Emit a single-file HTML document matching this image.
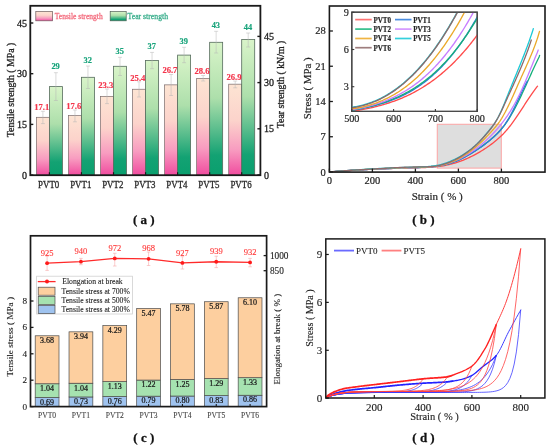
<!DOCTYPE html>
<html><head><meta charset="utf-8"><style>
html,body{margin:0;padding:0;background:#fff;width:550px;height:448px;overflow:hidden}
svg{display:block;font-family:"Liberation Serif", serif;will-change:transform}
</style></head><body>
<svg width="550" height="448" viewBox="0 0 550 448">
<rect width="550" height="448" fill="#fff"/>
<defs>
<linearGradient id="gp" x1="0" y1="0" x2="0" y2="1"><stop offset="0" stop-color="#fde4d3"/><stop offset="0.4" stop-color="#fcd3cb"/><stop offset="0.72" stop-color="#f89cc0"/><stop offset="1" stop-color="#f04c9f"/></linearGradient>
<linearGradient id="gg" x1="0" y1="0" x2="0" y2="1"><stop offset="0" stop-color="#d9f4c9"/><stop offset="0.42" stop-color="#addfab"/><stop offset="0.68" stop-color="#52ba8a"/><stop offset="0.85" stop-color="#13a273"/><stop offset="1" stop-color="#0a9f6e"/></linearGradient>
<clipPath id="cb"><rect x="330" y="6" width="215" height="166"/></clipPath>
<clipPath id="ci"><rect x="352" y="12.5" width="125" height="99"/></clipPath>
<clipPath id="cd"><rect x="326" y="239" width="219" height="159"/></clipPath>
</defs>
<rect x="36.4" y="117.302" width="13" height="57.898" fill="url(#gp)" stroke="#7a6a6a" stroke-width="0.7"/>
<rect x="49.4" y="86.6" width="13" height="88.6" fill="url(#gg)" stroke="#556b5c" stroke-width="0.8"/>
<line x1="42.9" y1="111.3" x2="42.9" y2="123.6" stroke="#b4b4b4" stroke-width="0.5"/>
<line x1="40.9" y1="111.3" x2="44.9" y2="111.3" stroke="#b4b4b4" stroke-width="0.5"/>
<line x1="40.9" y1="123.6" x2="44.9" y2="123.6" stroke="#b4b4b4" stroke-width="0.5"/>
<line x1="55.9" y1="72.7" x2="55.9" y2="100.5" stroke="#b4b4b4" stroke-width="0.5"/>
<line x1="53.9" y1="72.7" x2="57.9" y2="72.7" stroke="#b4b4b4" stroke-width="0.5"/>
<line x1="53.9" y1="100.5" x2="57.9" y2="100.5" stroke="#b4b4b4" stroke-width="0.5"/>
<text x="41.7" y="107.1" font-size="8.6" text-anchor="middle" font-weight="bold" fill="#f4364c" dominant-baseline="central" stroke="#f4364c" stroke-width="0.172">17.1</text>
<text x="55.6" y="66.9" font-size="8.4" text-anchor="middle" font-weight="bold" fill="#16a37a" dominant-baseline="central" stroke="#16a37a" stroke-width="0.168">29</text>
<text x="48.7" y="185" font-size="9.3" text-anchor="middle" font-weight="normal" fill="#2a2a2a" dominant-baseline="central" stroke="#2a2a2a" stroke-width="0.279" textLength="21.2" lengthAdjust="spacingAndGlyphs">PVT0</text>
<line x1="49.4" y1="175.2" x2="49.4" y2="172.2" stroke="#1a1a1a" stroke-width="1.2"/>
<rect x="68.45" y="115.612" width="13" height="59.588" fill="url(#gp)" stroke="#7a6a6a" stroke-width="0.7"/>
<rect x="81.45" y="77.3" width="13" height="97.9" fill="url(#gg)" stroke="#556b5c" stroke-width="0.8"/>
<line x1="74.95" y1="110" x2="74.95" y2="121.8" stroke="#b4b4b4" stroke-width="0.5"/>
<line x1="72.95" y1="110" x2="76.95" y2="110" stroke="#b4b4b4" stroke-width="0.5"/>
<line x1="72.95" y1="121.8" x2="76.95" y2="121.8" stroke="#b4b4b4" stroke-width="0.5"/>
<line x1="87.95" y1="66" x2="87.95" y2="88.5" stroke="#b4b4b4" stroke-width="0.5"/>
<line x1="85.95" y1="66" x2="89.95" y2="66" stroke="#b4b4b4" stroke-width="0.5"/>
<line x1="85.95" y1="88.5" x2="89.95" y2="88.5" stroke="#b4b4b4" stroke-width="0.5"/>
<text x="73.75" y="105.8" font-size="8.6" text-anchor="middle" font-weight="bold" fill="#f4364c" dominant-baseline="central" stroke="#f4364c" stroke-width="0.172">17.6</text>
<text x="87.65" y="60.2" font-size="8.4" text-anchor="middle" font-weight="bold" fill="#16a37a" dominant-baseline="central" stroke="#16a37a" stroke-width="0.168">32</text>
<text x="80.75" y="185" font-size="9.3" text-anchor="middle" font-weight="normal" fill="#2a2a2a" dominant-baseline="central" stroke="#2a2a2a" stroke-width="0.279" textLength="21.2" lengthAdjust="spacingAndGlyphs">PVT1</text>
<line x1="81.45" y1="175.2" x2="81.45" y2="172.2" stroke="#1a1a1a" stroke-width="1.2"/>
<rect x="100.5" y="96.346" width="13" height="78.854" fill="url(#gp)" stroke="#7a6a6a" stroke-width="0.7"/>
<rect x="113.5" y="66.3" width="13" height="108.9" fill="url(#gg)" stroke="#556b5c" stroke-width="0.8"/>
<line x1="107" y1="89" x2="107" y2="103.6" stroke="#b4b4b4" stroke-width="0.5"/>
<line x1="105" y1="89" x2="109" y2="89" stroke="#b4b4b4" stroke-width="0.5"/>
<line x1="105" y1="103.6" x2="109" y2="103.6" stroke="#b4b4b4" stroke-width="0.5"/>
<line x1="120" y1="57.3" x2="120" y2="75.5" stroke="#b4b4b4" stroke-width="0.5"/>
<line x1="118" y1="57.3" x2="122" y2="57.3" stroke="#b4b4b4" stroke-width="0.5"/>
<line x1="118" y1="75.5" x2="122" y2="75.5" stroke="#b4b4b4" stroke-width="0.5"/>
<text x="105.8" y="84.8" font-size="8.6" text-anchor="middle" font-weight="bold" fill="#f4364c" dominant-baseline="central" stroke="#f4364c" stroke-width="0.172">23.3</text>
<text x="119.7" y="51.5" font-size="8.4" text-anchor="middle" font-weight="bold" fill="#16a37a" dominant-baseline="central" stroke="#16a37a" stroke-width="0.168">35</text>
<text x="112.8" y="185" font-size="9.3" text-anchor="middle" font-weight="normal" fill="#2a2a2a" dominant-baseline="central" stroke="#2a2a2a" stroke-width="0.279" textLength="21.2" lengthAdjust="spacingAndGlyphs">PVT2</text>
<line x1="113.5" y1="175.2" x2="113.5" y2="172.2" stroke="#1a1a1a" stroke-width="1.2"/>
<rect x="132.55" y="89.248" width="13" height="85.952" fill="url(#gp)" stroke="#7a6a6a" stroke-width="0.7"/>
<rect x="145.55" y="60.5" width="13" height="114.7" fill="url(#gg)" stroke="#556b5c" stroke-width="0.8"/>
<line x1="139.05" y1="81.8" x2="139.05" y2="97" stroke="#b4b4b4" stroke-width="0.5"/>
<line x1="137.05" y1="81.8" x2="141.05" y2="81.8" stroke="#b4b4b4" stroke-width="0.5"/>
<line x1="137.05" y1="97" x2="141.05" y2="97" stroke="#b4b4b4" stroke-width="0.5"/>
<line x1="152.05" y1="52.4" x2="152.05" y2="68.7" stroke="#b4b4b4" stroke-width="0.5"/>
<line x1="150.05" y1="52.4" x2="154.05" y2="52.4" stroke="#b4b4b4" stroke-width="0.5"/>
<line x1="150.05" y1="68.7" x2="154.05" y2="68.7" stroke="#b4b4b4" stroke-width="0.5"/>
<text x="137.85" y="77.6" font-size="8.6" text-anchor="middle" font-weight="bold" fill="#f4364c" dominant-baseline="central" stroke="#f4364c" stroke-width="0.172">25.4</text>
<text x="151.75" y="46.6" font-size="8.4" text-anchor="middle" font-weight="bold" fill="#16a37a" dominant-baseline="central" stroke="#16a37a" stroke-width="0.168">37</text>
<text x="144.85" y="185" font-size="9.3" text-anchor="middle" font-weight="normal" fill="#2a2a2a" dominant-baseline="central" stroke="#2a2a2a" stroke-width="0.279" textLength="21.2" lengthAdjust="spacingAndGlyphs">PVT3</text>
<line x1="145.55" y1="175.2" x2="145.55" y2="172.2" stroke="#1a1a1a" stroke-width="1.2"/>
<rect x="164.6" y="84.854" width="13" height="90.346" fill="url(#gp)" stroke="#7a6a6a" stroke-width="0.7"/>
<rect x="177.6" y="55.1" width="13" height="120.1" fill="url(#gg)" stroke="#556b5c" stroke-width="0.8"/>
<line x1="171.1" y1="74.5" x2="171.1" y2="95.5" stroke="#b4b4b4" stroke-width="0.5"/>
<line x1="169.1" y1="74.5" x2="173.1" y2="74.5" stroke="#b4b4b4" stroke-width="0.5"/>
<line x1="169.1" y1="95.5" x2="173.1" y2="95.5" stroke="#b4b4b4" stroke-width="0.5"/>
<line x1="184.1" y1="47.3" x2="184.1" y2="62.7" stroke="#b4b4b4" stroke-width="0.5"/>
<line x1="182.1" y1="47.3" x2="186.1" y2="47.3" stroke="#b4b4b4" stroke-width="0.5"/>
<line x1="182.1" y1="62.7" x2="186.1" y2="62.7" stroke="#b4b4b4" stroke-width="0.5"/>
<text x="169.9" y="70.3" font-size="8.6" text-anchor="middle" font-weight="bold" fill="#f4364c" dominant-baseline="central" stroke="#f4364c" stroke-width="0.172">26.7</text>
<text x="183.8" y="41.5" font-size="8.4" text-anchor="middle" font-weight="bold" fill="#16a37a" dominant-baseline="central" stroke="#16a37a" stroke-width="0.168">39</text>
<text x="176.9" y="185" font-size="9.3" text-anchor="middle" font-weight="normal" fill="#2a2a2a" dominant-baseline="central" stroke="#2a2a2a" stroke-width="0.279" textLength="21.2" lengthAdjust="spacingAndGlyphs">PVT4</text>
<line x1="177.6" y1="175.2" x2="177.6" y2="172.2" stroke="#1a1a1a" stroke-width="1.2"/>
<rect x="196.65" y="78.432" width="13" height="96.768" fill="url(#gp)" stroke="#7a6a6a" stroke-width="0.7"/>
<rect x="209.65" y="42.3" width="13" height="132.9" fill="url(#gg)" stroke="#556b5c" stroke-width="0.8"/>
<line x1="203.15" y1="75.5" x2="203.15" y2="81" stroke="#b4b4b4" stroke-width="0.5"/>
<line x1="201.15" y1="75.5" x2="205.15" y2="75.5" stroke="#b4b4b4" stroke-width="0.5"/>
<line x1="201.15" y1="81" x2="205.15" y2="81" stroke="#b4b4b4" stroke-width="0.5"/>
<line x1="216.15" y1="31.3" x2="216.15" y2="53" stroke="#b4b4b4" stroke-width="0.5"/>
<line x1="214.15" y1="31.3" x2="218.15" y2="31.3" stroke="#b4b4b4" stroke-width="0.5"/>
<line x1="214.15" y1="53" x2="218.15" y2="53" stroke="#b4b4b4" stroke-width="0.5"/>
<text x="201.95" y="71.3" font-size="8.6" text-anchor="middle" font-weight="bold" fill="#f4364c" dominant-baseline="central" stroke="#f4364c" stroke-width="0.172">28.6</text>
<text x="215.85" y="25.5" font-size="8.4" text-anchor="middle" font-weight="bold" fill="#16a37a" dominant-baseline="central" stroke="#16a37a" stroke-width="0.168">43</text>
<text x="208.95" y="185" font-size="9.3" text-anchor="middle" font-weight="normal" fill="#2a2a2a" dominant-baseline="central" stroke="#2a2a2a" stroke-width="0.279" textLength="21.2" lengthAdjust="spacingAndGlyphs">PVT5</text>
<line x1="209.65" y1="175.2" x2="209.65" y2="172.2" stroke="#1a1a1a" stroke-width="1.2"/>
<rect x="228.7" y="84.178" width="13" height="91.022" fill="url(#gp)" stroke="#7a6a6a" stroke-width="0.7"/>
<rect x="241.7" y="39.4" width="13" height="135.8" fill="url(#gg)" stroke="#556b5c" stroke-width="0.8"/>
<line x1="235.2" y1="81" x2="235.2" y2="87.8" stroke="#b4b4b4" stroke-width="0.5"/>
<line x1="233.2" y1="81" x2="237.2" y2="81" stroke="#b4b4b4" stroke-width="0.5"/>
<line x1="233.2" y1="87.8" x2="237.2" y2="87.8" stroke="#b4b4b4" stroke-width="0.5"/>
<line x1="248.2" y1="33" x2="248.2" y2="47" stroke="#b4b4b4" stroke-width="0.5"/>
<line x1="246.2" y1="33" x2="250.2" y2="33" stroke="#b4b4b4" stroke-width="0.5"/>
<line x1="246.2" y1="47" x2="250.2" y2="47" stroke="#b4b4b4" stroke-width="0.5"/>
<text x="234" y="76.8" font-size="8.6" text-anchor="middle" font-weight="bold" fill="#f4364c" dominant-baseline="central" stroke="#f4364c" stroke-width="0.172">26.9</text>
<text x="247.9" y="27.2" font-size="8.4" text-anchor="middle" font-weight="bold" fill="#16a37a" dominant-baseline="central" stroke="#16a37a" stroke-width="0.168">44</text>
<text x="241" y="185" font-size="9.3" text-anchor="middle" font-weight="normal" fill="#2a2a2a" dominant-baseline="central" stroke="#2a2a2a" stroke-width="0.279" textLength="21.2" lengthAdjust="spacingAndGlyphs">PVT6</text>
<line x1="241.7" y1="175.2" x2="241.7" y2="172.2" stroke="#1a1a1a" stroke-width="1.2"/>
<rect x="30.3" y="5.8" width="230.1" height="169.4" fill="none" stroke="#1a1a1a" stroke-width="1.8"/>
<line x1="30.3" y1="175.1" x2="33.3" y2="175.1" stroke="#1a1a1a" stroke-width="1.4"/>
<text x="27" y="175.1" font-size="10" text-anchor="end" font-weight="normal" fill="#222" dominant-baseline="central" stroke="#222" stroke-width="0.300">0</text>
<line x1="260.4" y1="175" x2="257.4" y2="175" stroke="#1a1a1a" stroke-width="1.4"/>
<text x="264" y="175" font-size="10" text-anchor="start" font-weight="normal" fill="#222" dominant-baseline="central" stroke="#222" stroke-width="0.300">0</text>
<line x1="30.3" y1="124.4" x2="33.3" y2="124.4" stroke="#1a1a1a" stroke-width="1.4"/>
<text x="27" y="124.4" font-size="10" text-anchor="end" font-weight="normal" fill="#222" dominant-baseline="central" stroke="#222" stroke-width="0.300">15</text>
<line x1="260.4" y1="128.8" x2="257.4" y2="128.8" stroke="#1a1a1a" stroke-width="1.4"/>
<text x="264" y="128.8" font-size="10" text-anchor="start" font-weight="normal" fill="#222" dominant-baseline="central" stroke="#222" stroke-width="0.300">15</text>
<line x1="30.3" y1="73.7" x2="33.3" y2="73.7" stroke="#1a1a1a" stroke-width="1.4"/>
<text x="27" y="73.7" font-size="10" text-anchor="end" font-weight="normal" fill="#222" dominant-baseline="central" stroke="#222" stroke-width="0.300">30</text>
<line x1="260.4" y1="82.6" x2="257.4" y2="82.6" stroke="#1a1a1a" stroke-width="1.4"/>
<text x="264" y="82.6" font-size="10" text-anchor="start" font-weight="normal" fill="#222" dominant-baseline="central" stroke="#222" stroke-width="0.300">30</text>
<line x1="30.3" y1="23" x2="33.3" y2="23" stroke="#1a1a1a" stroke-width="1.4"/>
<text x="27" y="23" font-size="10" text-anchor="end" font-weight="normal" fill="#222" dominant-baseline="central" stroke="#222" stroke-width="0.300">45</text>
<line x1="260.4" y1="36.4" x2="257.4" y2="36.4" stroke="#1a1a1a" stroke-width="1.4"/>
<text x="264" y="36.4" font-size="10" text-anchor="start" font-weight="normal" fill="#222" dominant-baseline="central" stroke="#222" stroke-width="0.300">45</text>
<rect x="35.8" y="11.6" width="16.8" height="9.2" fill="url(#gp)" stroke="#6d5a5a" stroke-width="0.7"/>
<text x="54.7" y="16" font-size="9" text-anchor="start" font-weight="normal" fill="#f36679" dominant-baseline="central" stroke="#f36679" stroke-width="0.270" textLength="48" lengthAdjust="spacingAndGlyphs">Tensile strength</text>
<rect x="110.2" y="11.6" width="16" height="9.2" fill="url(#gg)" stroke="#4f5f55" stroke-width="0.7"/>
<text x="127.5" y="16" font-size="9" text-anchor="start" font-weight="normal" fill="#33ab88" dominant-baseline="central" stroke="#33ab88" stroke-width="0.270" textLength="40.6" lengthAdjust="spacingAndGlyphs">Tear strength</text>
<text x="10" y="90" font-size="9.8" text-anchor="middle" font-weight="normal" fill="#222" dominant-baseline="central" stroke="#222" stroke-width="0.294" transform="rotate(-90 10 90)">Tensile strength ( MPa )</text>
<text x="280" y="84.5" font-size="9.8" text-anchor="middle" font-weight="normal" fill="#222" dominant-baseline="central" stroke="#222" stroke-width="0.294" transform="rotate(-90 280 84.5)">Tear strength ( kN/m )</text>
<text x="143.8" y="219.6" font-size="13" text-anchor="middle" font-weight="bold" fill="#111" dominant-baseline="central" stroke="#111" stroke-width="0.260">( a )</text>
<rect x="437.3" y="124.3" width="64" height="43.8" fill="#dedede" stroke="#fbaaaa" stroke-width="1.1"/>
<g clip-path="url(#cb)" fill="none" stroke-linecap="round" stroke-linejoin="round">
<path d="M329.40,172.00 L331.00,171.88 L332.48,171.77 L333.96,171.65 L335.44,171.54 L336.93,171.43 L338.42,171.32 L339.92,171.22 L341.41,171.11 L342.91,171.01 L344.42,170.90 L345.92,170.80 L347.43,170.70 L348.94,170.60 L350.45,170.51 L351.97,170.41 L353.48,170.32 L355.00,170.22 L356.52,170.13 L358.04,170.04 L359.57,169.96 L361.09,169.87 L362.62,169.79 L364.15,169.70 L365.68,169.62 L367.21,169.54 L368.74,169.47 L370.27,169.39 L371.81,169.32 L373.34,169.25 L374.88,169.18 L376.42,169.11 L377.95,169.04 L379.49,168.98 L381.03,168.91 L382.57,168.85 L384.11,168.79 L385.64,168.73 L387.18,168.68 L388.72,168.62 L390.26,168.57 L391.80,168.51 L393.34,168.46 L394.87,168.41 L396.41,168.36 L397.95,168.31 L399.48,168.26 L401.02,168.22 L402.55,168.17 L404.08,168.13 L405.61,168.08 L407.14,168.04 L408.67,168.00 L410.20,167.96 L411.72,167.91 L413.25,167.87 L414.77,167.83 L416.29,167.79 L417.81,167.75 L419.33,167.71 L420.84,167.67 L422.36,167.62 L423.87,167.57 L425.38,167.51 L426.88,167.44 L428.38,167.36 L429.88,167.27 L431.38,167.17 L432.88,167.06 L434.37,166.93 L435.86,166.78 L437.34,166.62 L438.83,166.44 L440.31,166.23 L441.78,166.01 L443.25,165.77 L444.72,165.51 L446.19,165.22 L447.65,164.92 L449.11,164.59 L450.56,164.24 L452.01,163.87 L453.46,163.47 L454.90,163.05 L456.33,162.61 L457.77,162.14 L459.19,161.65 L460.62,161.13 L462.04,160.59 L463.45,160.03 L464.86,159.45 L466.26,158.85 L467.66,158.23 L469.05,157.59 L470.44,156.93 L471.82,156.26 L473.20,155.56 L474.56,154.85 L475.92,154.12 L477.28,153.37 L478.62,152.61 L479.95,151.83 L481.28,151.03 L482.59,150.22 L483.90,149.39 L485.19,148.55 L486.48,147.70 L487.75,146.83 L489.01,145.94 L490.26,145.04 L491.49,144.13 L492.71,143.21 L493.92,142.27 L495.11,141.31 L496.29,140.35 L497.44,139.36 L498.58,138.36 L499.70,137.34 L500.80,136.30 L501.88,135.25 L502.94,134.18 L503.97,133.09 L504.99,131.98 L505.99,130.86 L506.98,129.73 L507.95,128.58 L508.90,127.41 L509.84,126.24 L510.76,125.05 L511.67,123.85 L512.57,122.64 L513.46,121.42 L514.34,120.19 L515.21,118.96 L516.07,117.71 L516.92,116.46 L517.77,115.20 L518.61,113.94 L519.45,112.67 L520.28,111.40 L521.11,110.12 L521.94,108.84 L522.77,107.56 L523.59,106.28 L524.42,105.00 L525.25,103.71 L526.08,102.43 L526.91,101.15 L527.75,99.87 L528.59,98.60 L529.44,97.33 L530.30,96.06 L531.16,94.80 L532.03,93.54 L532.91,92.29 L533.80,91.05 L534.70,89.82 L535.62,88.59 L536.54,87.37 L537.50,86.20" stroke="#ff4b4b" stroke-width="1.3"/>
<path d="M329.40,172.00 L331.09,171.86 L332.75,171.73 L334.40,171.60 L336.06,171.47 L337.72,171.35 L339.39,171.22 L341.05,171.10 L342.72,170.99 L344.39,170.87 L346.06,170.76 L347.73,170.65 L349.40,170.54 L351.07,170.43 L352.75,170.33 L354.43,170.22 L356.10,170.12 L357.78,170.02 L359.46,169.92 L361.14,169.83 L362.83,169.73 L364.51,169.64 L366.19,169.55 L367.88,169.46 L369.56,169.38 L371.24,169.29 L372.93,169.21 L374.61,169.12 L376.30,169.04 L377.99,168.96 L379.67,168.88 L381.36,168.81 L383.04,168.73 L384.73,168.66 L386.42,168.59 L388.10,168.52 L389.79,168.45 L391.47,168.38 L393.16,168.32 L394.84,168.25 L396.52,168.19 L398.20,168.13 L399.89,168.07 L401.57,168.02 L403.25,167.96 L404.93,167.91 L406.60,167.86 L408.28,167.81 L409.96,167.76 L411.63,167.71 L413.30,167.67 L414.97,167.63 L416.64,167.59 L418.31,167.55 L419.98,167.50 L421.64,167.45 L423.31,167.40 L424.97,167.33 L426.63,167.25 L428.29,167.15 L429.94,167.03 L431.59,166.89 L433.25,166.72 L434.89,166.53 L436.54,166.31 L438.18,166.05 L439.83,165.76 L441.46,165.43 L443.10,165.08 L444.72,164.69 L446.34,164.26 L447.96,163.81 L449.57,163.33 L451.17,162.81 L452.76,162.27 L454.35,161.70 L455.92,161.10 L457.48,160.46 L459.03,159.81 L460.57,159.12 L462.10,158.41 L463.61,157.67 L465.11,156.90 L466.60,156.11 L468.07,155.30 L469.53,154.46 L470.97,153.60 L472.40,152.72 L473.81,151.82 L475.22,150.90 L476.62,149.97 L478.01,149.02 L479.39,148.07 L480.77,147.10 L482.14,146.12 L483.50,145.13 L484.85,144.12 L486.20,143.10 L487.53,142.07 L488.85,141.02 L490.15,139.95 L491.45,138.87 L492.72,137.77 L493.98,136.65 L495.22,135.51 L496.44,134.35 L497.63,133.17 L498.80,131.97 L499.94,130.75 L501.05,129.50 L502.12,128.23 L503.17,126.94 L504.19,125.63 L505.18,124.29 L506.14,122.94 L507.08,121.57 L508.00,120.19 L508.89,118.79 L509.77,117.37 L510.63,115.94 L511.47,114.50 L512.30,113.05 L513.11,111.59 L513.91,110.13 L514.70,108.65 L515.49,107.17 L516.26,105.68 L517.02,104.18 L517.78,102.68 L518.53,101.18 L519.27,99.66 L520.00,98.15 L520.73,96.63 L521.45,95.11 L522.17,93.58 L522.88,92.05 L523.59,90.52 L524.29,88.99 L524.99,87.45 L525.69,85.91 L526.39,84.38 L527.08,82.84 L527.77,81.30 L528.46,79.76 L529.15,78.22 L529.85,76.69 L530.54,75.15 L531.23,73.62 L531.93,72.09 L532.63,70.56 L533.33,69.04 L534.03,67.52 L534.74,66.00 L535.45,64.49 L536.16,62.98 L536.89,61.48 L537.61,59.98 L538.35,58.49 L539.09,57.00 L539.60,55.40" stroke="#17b07b" stroke-width="1.3"/>
<path d="M329.40,172.00 L330.90,171.87 L332.39,171.75 L333.88,171.63 L335.37,171.51 L336.86,171.39 L338.35,171.28 L339.84,171.17 L341.33,171.06 L342.82,170.95 L344.32,170.85 L345.81,170.75 L347.30,170.65 L348.80,170.55 L350.29,170.46 L351.79,170.36 L353.28,170.27 L354.78,170.18 L356.27,170.10 L357.77,170.01 L359.27,169.93 L360.76,169.85 L362.26,169.77 L363.76,169.69 L365.26,169.62 L366.75,169.54 L368.25,169.47 L369.75,169.40 L371.25,169.33 L372.75,169.26 L374.25,169.19 L375.75,169.12 L377.25,169.06 L378.74,168.99 L380.24,168.93 L381.74,168.87 L383.24,168.81 L384.74,168.75 L386.24,168.69 L387.74,168.63 L389.24,168.57 L390.74,168.51 L392.24,168.46 L393.74,168.40 L395.24,168.34 L396.74,168.29 L398.24,168.23 L399.74,168.18 L401.24,168.12 L402.74,168.07 L404.24,168.02 L405.74,167.96 L407.24,167.91 L408.74,167.85 L410.24,167.80 L411.74,167.75 L413.24,167.69 L414.74,167.64 L416.24,167.58 L417.74,167.53 L419.23,167.47 L420.73,167.41 L422.23,167.34 L423.72,167.27 L425.22,167.19 L426.71,167.10 L428.20,167.00 L429.68,166.89 L431.17,166.76 L432.65,166.62 L434.13,166.47 L435.60,166.30 L437.07,166.11 L438.54,165.90 L440.00,165.67 L441.46,165.42 L442.91,165.15 L444.36,164.85 L445.81,164.52 L447.24,164.17 L448.68,163.78 L450.10,163.37 L451.52,162.92 L452.93,162.45 L454.34,161.93 L455.74,161.39 L457.13,160.80 L458.52,160.18 L459.89,159.54 L461.26,158.86 L462.62,158.16 L463.97,157.44 L465.31,156.71 L466.64,155.97 L467.97,155.21 L469.28,154.45 L470.59,153.68 L471.88,152.91 L473.17,152.12 L474.44,151.33 L475.71,150.53 L476.97,149.72 L478.21,148.89 L479.45,148.06 L480.68,147.22 L481.90,146.36 L483.11,145.49 L484.31,144.61 L485.50,143.72 L486.69,142.81 L487.86,141.89 L489.02,140.96 L490.18,140.01 L491.32,139.04 L492.46,138.06 L493.58,137.06 L494.69,136.04 L495.77,135.01 L496.84,133.96 L497.89,132.89 L498.92,131.80 L499.92,130.70 L500.90,129.57 L501.85,128.42 L502.77,127.25 L503.67,126.07 L504.54,124.87 L505.39,123.65 L506.21,122.41 L507.02,121.16 L507.81,119.90 L508.57,118.62 L509.33,117.33 L510.06,116.03 L510.78,114.71 L511.49,113.39 L512.18,112.06 L512.86,110.72 L513.53,109.38 L514.20,108.03 L514.85,106.67 L515.50,105.31 L516.14,103.94 L516.78,102.58 L517.42,101.21 L518.05,99.84 L518.68,98.47 L519.32,97.10 L519.95,95.74 L520.59,94.37 L521.23,93.01 L521.88,91.66 L522.53,90.31 L523.19,88.96 L523.86,87.63 L524.54,86.30 L525.23,84.98 L525.93,83.67 L526.65,82.38 L527.40,81.10" stroke="#2f79d6" stroke-width="1.3"/>
<path d="M329.40,172.00 L331.10,171.86 L332.78,171.74 L334.45,171.61 L336.13,171.49 L337.81,171.36 L339.49,171.24 L341.17,171.12 L342.85,170.99 L344.54,170.87 L346.22,170.76 L347.91,170.64 L349.60,170.52 L351.29,170.41 L352.99,170.30 L354.68,170.18 L356.37,170.08 L358.07,169.97 L359.77,169.86 L361.47,169.76 L363.16,169.66 L364.86,169.56 L366.56,169.46 L368.26,169.37 L369.96,169.28 L371.67,169.19 L373.37,169.10 L375.07,169.02 L376.77,168.94 L378.47,168.86 L380.18,168.78 L381.88,168.71 L383.58,168.64 L385.28,168.57 L386.98,168.50 L388.69,168.43 L390.39,168.37 L392.09,168.31 L393.79,168.25 L395.49,168.19 L397.19,168.14 L398.88,168.08 L400.58,168.03 L402.28,167.98 L403.97,167.93 L405.67,167.88 L407.36,167.83 L409.05,167.78 L410.74,167.74 L412.43,167.70 L414.12,167.65 L415.80,167.61 L417.49,167.57 L419.17,167.52 L420.85,167.47 L422.53,167.42 L424.20,167.35 L425.88,167.26 L427.55,167.16 L429.22,167.04 L430.89,166.89 L432.56,166.72 L434.22,166.51 L435.88,166.28 L437.54,166.01 L439.20,165.70 L440.85,165.35 L442.49,164.97 L444.14,164.55 L445.77,164.10 L447.40,163.61 L449.02,163.09 L450.63,162.54 L452.24,161.96 L453.83,161.34 L455.41,160.70 L456.98,160.02 L458.53,159.32 L460.07,158.59 L461.60,157.83 L463.11,157.04 L464.61,156.23 L466.09,155.39 L467.55,154.53 L468.99,153.64 L470.41,152.73 L471.82,151.80 L473.21,150.84 L474.58,149.87 L475.94,148.87 L477.29,147.85 L478.62,146.82 L479.94,145.76 L481.24,144.69 L482.54,143.60 L483.82,142.50 L485.08,141.37 L486.34,140.23 L487.58,139.07 L488.80,137.90 L490.01,136.71 L491.21,135.51 L492.39,134.29 L493.56,133.05 L494.71,131.80 L495.85,130.54 L496.97,129.26 L498.08,127.97 L499.17,126.67 L500.25,125.35 L501.31,124.02 L502.36,122.68 L503.39,121.32 L504.40,119.96 L505.39,118.58 L506.37,117.19 L507.34,115.79 L508.28,114.38 L509.21,112.96 L510.13,111.53 L511.02,110.10 L511.90,108.65 L512.76,107.19 L513.60,105.73 L514.43,104.25 L515.24,102.77 L516.04,101.29 L516.83,99.79 L517.60,98.29 L518.36,96.78 L519.10,95.26 L519.84,93.74 L520.56,92.22 L521.28,90.68 L521.98,89.15 L522.68,87.61 L523.37,86.06 L524.05,84.51 L524.72,82.96 L525.39,81.40 L526.05,79.84 L526.71,78.28 L527.36,76.71 L528.01,75.15 L528.65,73.58 L529.30,72.01 L529.94,70.44 L530.58,68.86 L531.22,67.29 L531.86,65.72 L532.49,64.15 L533.14,62.57 L533.78,61.00 L534.42,59.43 L535.07,57.86 L535.72,56.30 L536.38,54.73 L537.04,53.17 L537.71,51.61 L538.20,50.00" stroke="#c77dff" stroke-width="1.3"/>
<path d="M329.40,172.00 L331.23,171.86 L332.98,171.72 L334.74,171.58 L336.50,171.45 L338.26,171.31 L340.03,171.18 L341.80,171.05 L343.57,170.91 L345.35,170.78 L347.14,170.65 L348.92,170.53 L350.71,170.40 L352.50,170.28 L354.30,170.16 L356.10,170.04 L357.90,169.92 L359.70,169.80 L361.50,169.69 L363.31,169.58 L365.12,169.47 L366.92,169.37 L368.74,169.26 L370.55,169.16 L372.36,169.07 L374.17,168.98 L375.99,168.89 L377.80,168.80 L379.62,168.72 L381.44,168.64 L383.25,168.56 L385.07,168.48 L386.88,168.41 L388.70,168.34 L390.51,168.27 L392.32,168.21 L394.14,168.14 L395.95,168.08 L397.76,168.02 L399.57,167.96 L401.37,167.90 L403.18,167.85 L404.98,167.79 L406.78,167.74 L408.58,167.69 L410.37,167.64 L412.17,167.59 L413.96,167.54 L415.74,167.49 L417.53,167.44 L419.31,167.39 L421.09,167.33 L422.86,167.26 L424.63,167.18 L426.39,167.09 L428.15,166.97 L429.91,166.83 L431.66,166.67 L433.41,166.47 L435.15,166.25 L436.89,165.98 L438.62,165.68 L440.35,165.34 L442.07,164.95 L443.78,164.52 L445.48,164.06 L447.17,163.55 L448.86,162.99 L450.53,162.40 L452.20,161.76 L453.85,161.07 L455.48,160.34 L457.11,159.56 L458.71,158.74 L460.31,157.88 L461.89,156.98 L463.45,156.04 L464.99,155.07 L466.52,154.06 L468.02,153.02 L469.51,151.96 L470.97,150.87 L472.42,149.75 L473.84,148.61 L475.24,147.45 L476.61,146.28 L477.96,145.09 L479.29,143.88 L480.59,142.67 L481.87,141.44 L483.13,140.20 L484.38,138.95 L485.62,137.68 L486.86,136.40 L488.09,135.11 L489.32,133.80 L490.56,132.48 L491.79,131.14 L493.02,129.78 L494.23,128.41 L495.42,127.02 L496.57,125.61 L497.69,124.19 L498.75,122.75 L499.77,121.29 L500.75,119.81 L501.69,118.32 L502.59,116.81 L503.47,115.29 L504.32,113.75 L505.16,112.20 L505.97,110.64 L506.78,109.07 L507.57,107.49 L508.35,105.89 L509.13,104.29 L509.90,102.68 L510.66,101.06 L511.41,99.43 L512.16,97.80 L512.90,96.16 L513.64,94.52 L514.38,92.87 L515.11,91.22 L515.84,89.57 L516.57,87.91 L517.30,86.26 L518.03,84.60 L518.76,82.94 L519.50,81.29 L520.23,79.64 L520.97,77.99 L521.71,76.34 L522.46,74.70 L523.20,73.05 L523.94,71.41 L524.69,69.76 L525.43,68.12 L526.16,66.48 L526.90,64.84 L527.63,63.19 L528.35,61.55 L529.07,59.90 L529.78,58.25 L530.48,56.60 L531.18,54.95 L531.86,53.29 L532.54,51.63 L533.20,49.97 L533.85,48.30 L534.49,46.63 L535.12,44.95 L535.73,43.27 L536.32,41.58 L536.90,39.89 L537.46,38.19 L538.00,36.48 L538.53,34.76 L539.03,33.04 L539.50,31.30" stroke="#eba92a" stroke-width="1.3"/>
<path d="M329.40,172.00 L331.21,171.85 L332.95,171.70 L334.70,171.56 L336.45,171.41 L338.20,171.27 L339.96,171.13 L341.72,170.99 L343.49,170.85 L345.26,170.72 L347.03,170.58 L348.80,170.45 L350.58,170.31 L352.36,170.18 L354.14,170.05 L355.93,169.93 L357.71,169.80 L359.50,169.68 L361.29,169.56 L363.08,169.44 L364.88,169.33 L366.67,169.21 L368.47,169.10 L370.26,168.99 L372.06,168.89 L373.86,168.79 L375.66,168.69 L377.46,168.59 L379.26,168.50 L381.06,168.41 L382.86,168.32 L384.66,168.23 L386.46,168.15 L388.25,168.07 L390.05,167.99 L391.85,167.92 L393.65,167.84 L395.44,167.77 L397.24,167.70 L399.03,167.63 L400.82,167.56 L402.61,167.50 L404.40,167.44 L406.18,167.38 L407.97,167.32 L409.75,167.26 L411.53,167.20 L413.30,167.14 L415.07,167.09 L416.84,167.04 L418.61,166.98 L420.38,166.92 L422.14,166.85 L423.89,166.77 L425.65,166.67 L427.39,166.55 L429.14,166.40 L430.88,166.23 L432.62,166.02 L434.35,165.77 L436.08,165.49 L437.80,165.15 L439.52,164.77 L441.23,164.35 L442.93,163.88 L444.63,163.36 L446.31,162.81 L447.99,162.21 L449.66,161.57 L451.31,160.89 L452.95,160.17 L454.58,159.42 L456.19,158.63 L457.78,157.80 L459.36,156.94 L460.92,156.04 L462.47,155.11 L463.99,154.15 L465.49,153.16 L466.97,152.13 L468.43,151.08 L469.86,150.01 L471.27,148.90 L472.66,147.77 L474.02,146.62 L475.35,145.44 L476.65,144.24 L477.92,143.01 L479.17,141.77 L480.38,140.50 L481.57,139.22 L482.75,137.92 L483.91,136.59 L485.06,135.25 L486.21,133.89 L487.37,132.51 L488.53,131.12 L489.69,129.70 L490.84,128.27 L491.97,126.82 L493.07,125.35 L494.13,123.87 L495.13,122.37 L496.08,120.86 L496.99,119.32 L497.86,117.78 L498.69,116.22 L499.48,114.65 L500.24,113.07 L500.98,111.48 L501.69,109.88 L502.39,108.26 L503.07,106.65 L503.74,105.02 L504.41,103.39 L505.07,101.75 L505.73,100.10 L506.39,98.46 L507.05,96.81 L507.72,95.15 L508.38,93.50 L509.05,91.85 L509.72,90.19 L510.39,88.54 L511.06,86.88 L511.73,85.23 L512.41,83.58 L513.09,81.93 L513.76,80.27 L514.44,78.62 L515.12,76.97 L515.80,75.32 L516.48,73.67 L517.15,72.01 L517.83,70.36 L518.50,68.71 L519.17,67.05 L519.84,65.40 L520.51,63.74 L521.18,62.08 L521.84,60.43 L522.49,58.77 L523.15,57.11 L523.80,55.45 L524.45,53.79 L525.09,52.12 L525.72,50.46 L526.35,48.79 L526.98,47.12 L527.60,45.45 L528.21,43.78 L528.82,42.11 L529.42,40.43 L530.01,38.75 L530.59,37.08 L531.17,35.39 L531.74,33.71 L532.30,32.02 L532.85,30.33 L533.30,28.60" stroke="#19c9d6" stroke-width="1.3"/>
<path d="M329.40,172.00 L331.13,171.83 L332.81,171.66 L334.50,171.51 L336.19,171.36 L337.88,171.22 L339.57,171.08 L341.27,170.95 L342.97,170.82 L344.67,170.70 L346.37,170.58 L348.08,170.47 L349.79,170.36 L351.50,170.26 L353.21,170.15 L354.92,170.05 L356.64,169.95 L358.36,169.85 L360.07,169.76 L361.79,169.66 L363.52,169.57 L365.24,169.47 L366.96,169.37 L368.68,169.28 L370.41,169.18 L372.14,169.08 L373.86,168.98 L375.59,168.87 L377.31,168.77 L379.04,168.66 L380.77,168.56 L382.49,168.45 L384.22,168.34 L385.95,168.24 L387.67,168.14 L389.40,168.03 L391.12,167.93 L392.85,167.84 L394.57,167.74 L396.29,167.65 L398.02,167.56 L399.74,167.48 L401.45,167.40 L403.17,167.33 L404.89,167.26 L406.60,167.20 L408.32,167.14 L410.03,167.10 L411.74,167.06 L413.44,167.02 L415.15,167.00 L416.85,166.98 L418.55,166.97 L420.25,166.96 L421.94,166.95 L423.63,166.93 L425.32,166.89 L427.01,166.83 L428.69,166.75 L430.37,166.65 L432.05,166.50 L433.72,166.32 L435.39,166.10 L437.06,165.83 L438.72,165.50 L440.38,165.13 L442.03,164.71 L443.67,164.24 L445.31,163.72 L446.93,163.16 L448.55,162.55 L450.15,161.91 L451.74,161.22 L453.32,160.50 L454.89,159.74 L456.43,158.95 L457.97,158.12 L459.48,157.26 L460.97,156.37 L462.45,155.46 L463.90,154.51 L465.33,153.55 L466.74,152.56 L468.12,151.54 L469.48,150.51 L470.81,149.45 L472.13,148.38 L473.42,147.28 L474.69,146.17 L475.94,145.03 L477.18,143.88 L478.39,142.70 L479.60,141.50 L480.78,140.29 L481.95,139.06 L483.11,137.80 L484.26,136.53 L485.40,135.24 L486.53,133.93 L487.64,132.60 L488.75,131.26 L489.85,129.89 L490.93,128.52 L491.98,127.12 L493.01,125.71 L494.00,124.28 L494.95,122.85 L495.86,121.39 L496.74,119.93 L497.59,118.46 L498.40,116.97 L499.19,115.48 L499.96,113.98 L500.71,112.46 L501.44,110.95 L502.16,109.42 L502.87,107.89 L503.57,106.36 L504.27,104.82 L504.96,103.28 L505.66,101.73 L506.36,100.19 L507.07,98.64 L507.77,97.09 L508.48,95.53 L509.19,93.98 L509.90,92.42 L510.61,90.86 L511.33,89.30 L512.04,87.74 L512.75,86.17 L513.46,84.61 L514.17,83.04 L514.88,81.47 L515.58,79.90 L516.28,78.32 L516.98,76.75 L517.68,75.17 L518.37,73.59 L519.06,72.01 L519.74,70.42 L520.42,68.84 L521.09,67.25 L521.76,65.66 L522.42,64.07 L523.07,62.48 L523.72,60.88 L524.36,59.29 L524.99,57.69 L525.61,56.09 L526.22,54.49 L526.83,52.89 L527.42,51.28 L528.01,49.68 L528.58,48.07 L529.15,46.46 L529.70,44.85 L530.24,43.24 L530.77,41.63 L531.30,40.00" stroke="#8d6a6a" stroke-width="1.3"/>
</g>
<rect x="329.4" y="6" width="215.6" height="166.1" fill="none" stroke="#1a1a1a" stroke-width="1.6"/>
<line x1="329.4" y1="172" x2="332.9" y2="172" stroke="#1a1a1a" stroke-width="1.3"/>
<text x="325.8" y="172" font-size="10.5" text-anchor="end" font-weight="normal" fill="#222" dominant-baseline="central" stroke="#222" stroke-width="0.189">0</text>
<line x1="329.4" y1="136.748" x2="332.9" y2="136.748" stroke="#1a1a1a" stroke-width="1.3"/>
<text x="325.8" y="136.748" font-size="10.5" text-anchor="end" font-weight="normal" fill="#222" dominant-baseline="central" stroke="#222" stroke-width="0.189">7</text>
<line x1="329.4" y1="101.496" x2="332.9" y2="101.496" stroke="#1a1a1a" stroke-width="1.3"/>
<text x="325.8" y="101.496" font-size="10.5" text-anchor="end" font-weight="normal" fill="#222" dominant-baseline="central" stroke="#222" stroke-width="0.189">14</text>
<line x1="329.4" y1="66.244" x2="332.9" y2="66.244" stroke="#1a1a1a" stroke-width="1.3"/>
<text x="325.8" y="66.244" font-size="10.5" text-anchor="end" font-weight="normal" fill="#222" dominant-baseline="central" stroke="#222" stroke-width="0.189">21</text>
<line x1="329.4" y1="30.992" x2="332.9" y2="30.992" stroke="#1a1a1a" stroke-width="1.3"/>
<text x="325.8" y="30.992" font-size="10.5" text-anchor="end" font-weight="normal" fill="#222" dominant-baseline="central" stroke="#222" stroke-width="0.189">28</text>
<line x1="329.4" y1="172.1" x2="329.4" y2="168.6" stroke="#1a1a1a" stroke-width="1.3"/>
<text x="329.4" y="180.6" font-size="10.5" text-anchor="middle" font-weight="normal" fill="#222" dominant-baseline="central" stroke="#222" stroke-width="0.189">0</text>
<line x1="372.4" y1="172.1" x2="372.4" y2="168.6" stroke="#1a1a1a" stroke-width="1.3"/>
<text x="372.4" y="180.6" font-size="10.5" text-anchor="middle" font-weight="normal" fill="#222" dominant-baseline="central" stroke="#222" stroke-width="0.189">200</text>
<line x1="415.4" y1="172.1" x2="415.4" y2="168.6" stroke="#1a1a1a" stroke-width="1.3"/>
<text x="415.4" y="180.6" font-size="10.5" text-anchor="middle" font-weight="normal" fill="#222" dominant-baseline="central" stroke="#222" stroke-width="0.189">400</text>
<line x1="458.4" y1="172.1" x2="458.4" y2="168.6" stroke="#1a1a1a" stroke-width="1.3"/>
<text x="458.4" y="180.6" font-size="10.5" text-anchor="middle" font-weight="normal" fill="#222" dominant-baseline="central" stroke="#222" stroke-width="0.189">600</text>
<line x1="501.4" y1="172.1" x2="501.4" y2="168.6" stroke="#1a1a1a" stroke-width="1.3"/>
<text x="501.4" y="180.6" font-size="10.5" text-anchor="middle" font-weight="normal" fill="#222" dominant-baseline="central" stroke="#222" stroke-width="0.189">800</text>
<text x="437.2" y="196.3" font-size="11" text-anchor="middle" font-weight="normal" fill="#222" dominant-baseline="central" stroke="#222" stroke-width="0.198">Strain ( % )</text>
<text x="307.2" y="88.3" font-size="10.9" text-anchor="middle" font-weight="normal" fill="#222" dominant-baseline="central" stroke="#222" stroke-width="0.196" transform="rotate(-90 307.2 88.3)">Stress ( MPa )</text>
<text x="423.4" y="219.6" font-size="13" text-anchor="middle" font-weight="bold" fill="#111" dominant-baseline="central" stroke="#111" stroke-width="0.260">( b )</text>
<rect x="351.8" y="12.2" width="125.4" height="99.2" fill="#ffffff" stroke="#3a3a3a" stroke-width="1.2"/>
<g clip-path="url(#ci)" fill="none" stroke-linecap="round">
<path d="M351.80,111.29 L353.07,111.10 L354.34,110.90 L355.61,110.69 L356.88,110.49 L358.15,110.27 L359.42,110.05 L360.69,109.83 L361.96,109.60 L363.23,109.36 L364.50,109.12 L365.77,108.87 L367.04,108.61 L368.31,108.35 L369.58,108.08 L370.85,107.80 L372.12,107.52 L373.38,107.22 L374.65,106.92 L375.92,106.61 L377.19,106.29 L378.46,105.97 L379.73,105.63 L381.00,105.28 L382.27,104.93 L383.54,104.56 L384.81,104.19 L386.08,103.81 L387.35,103.41 L388.62,103.00 L389.89,102.59 L391.16,102.16 L392.43,101.72 L393.70,101.27 L394.97,100.81 L396.24,100.34 L397.51,99.85 L398.78,99.35 L400.05,98.84 L401.32,98.32 L402.59,97.78 L403.86,97.23 L405.13,96.66 L406.40,96.09 L407.67,95.49 L408.94,94.89 L410.21,94.27 L411.48,93.63 L412.75,92.98 L414.02,92.32 L415.28,91.64 L416.55,90.94 L417.82,90.23 L419.09,89.50 L420.36,88.76 L421.63,87.99 L422.90,87.22 L424.17,86.42 L425.44,85.61 L426.71,84.78 L427.98,83.93 L429.25,83.07 L430.52,82.19 L431.79,81.28 L433.06,80.37 L434.33,79.43 L435.60,78.47 L436.87,77.49 L438.14,76.50 L439.41,75.48 L440.68,74.44 L441.95,73.39 L443.22,72.31 L444.49,71.21 L445.76,70.10 L447.03,68.96 L448.30,67.80 L449.57,66.62 L450.84,65.41 L452.11,64.19 L453.38,62.94 L454.65,61.67 L455.92,60.38 L457.18,59.06 L458.45,57.72 L459.72,56.36 L460.99,54.98 L462.26,53.57 L463.53,52.13 L464.80,50.68 L466.07,49.19 L467.34,47.69 L468.61,46.16 L469.88,44.60 L471.15,43.02 L472.42,41.41 L473.69,39.78 L474.96,38.12 L476.23,36.43 L477.50,34.72" stroke="#ff4b4b" stroke-width="1.35"/>
<path d="M351.80,110.38 L353.07,110.16 L354.34,109.93 L355.61,109.69 L356.88,109.46 L358.15,109.22 L359.42,108.97 L360.69,108.73 L361.96,108.47 L363.23,108.22 L364.50,107.95 L365.77,107.68 L367.04,107.41 L368.31,107.12 L369.58,106.83 L370.85,106.54 L372.12,106.23 L373.38,105.92 L374.65,105.60 L375.92,105.27 L377.19,104.93 L378.46,104.58 L379.73,104.22 L381.00,103.85 L382.27,103.47 L383.54,103.07 L384.81,102.67 L386.08,102.25 L387.35,101.83 L388.62,101.38 L389.89,100.93 L391.16,100.46 L392.43,99.98 L393.70,99.49 L394.97,98.98 L396.24,98.45 L397.51,97.91 L398.78,97.36 L400.05,96.78 L401.32,96.19 L402.59,95.59 L403.86,94.97 L405.13,94.33 L406.40,93.67 L407.67,92.99 L408.94,92.30 L410.21,91.58 L411.48,90.85 L412.75,90.09 L414.02,89.32 L415.28,88.52 L416.55,87.71 L417.82,86.87 L419.09,86.01 L420.36,85.13 L421.63,84.23 L422.90,83.30 L424.17,82.35 L425.44,81.38 L426.71,80.38 L427.98,79.36 L429.25,78.31 L430.52,77.24 L431.79,76.15 L433.06,75.02 L434.33,73.87 L435.60,72.70 L436.87,71.49 L438.14,70.26 L439.41,69.01 L440.68,67.72 L441.95,66.41 L443.22,65.06 L444.49,63.69 L445.76,62.29 L447.03,60.85 L448.30,59.39 L449.57,57.90 L450.84,56.37 L452.11,54.82 L453.38,53.23 L454.65,51.61 L455.92,49.95 L457.18,48.27 L458.45,46.55 L459.72,44.80 L460.99,43.01 L462.26,41.19 L463.53,39.33 L464.80,37.44 L466.07,35.51 L467.34,33.54 L468.61,31.54 L469.88,29.51 L471.15,27.43 L472.42,25.32 L473.69,23.17 L474.96,20.98 L476.23,18.76 L477.50,16.49" stroke="#2f79d6" stroke-width="1.35"/>
<path d="M351.80,110.20 L353.07,109.97 L354.34,109.73 L355.61,109.49 L356.88,109.25 L358.15,109.00 L359.42,108.75 L360.69,108.49 L361.96,108.22 L363.23,107.95 L364.50,107.67 L365.77,107.39 L367.04,107.09 L368.31,106.79 L369.58,106.49 L370.85,106.17 L372.12,105.84 L373.38,105.51 L374.65,105.17 L375.92,104.82 L377.19,104.45 L378.46,104.08 L379.73,103.70 L381.00,103.31 L382.27,102.90 L383.54,102.49 L384.81,102.06 L386.08,101.62 L387.35,101.17 L388.62,100.71 L389.89,100.23 L391.16,99.74 L392.43,99.24 L393.70,98.72 L394.97,98.19 L396.24,97.64 L397.51,97.08 L398.78,96.50 L400.05,95.91 L401.32,95.30 L402.59,94.68 L403.86,94.04 L405.13,93.38 L406.40,92.71 L407.67,92.02 L408.94,91.31 L410.21,90.58 L411.48,89.83 L412.75,89.07 L414.02,88.29 L415.28,87.48 L416.55,86.66 L417.82,85.82 L419.09,84.96 L420.36,84.07 L421.63,83.17 L422.90,82.24 L424.17,81.30 L425.44,80.33 L426.71,79.34 L427.98,78.32 L429.25,77.29 L430.52,76.23 L431.79,75.15 L433.06,74.04 L434.33,72.91 L435.60,71.75 L436.87,70.57 L438.14,69.37 L439.41,68.14 L440.68,66.88 L441.95,65.60 L443.22,64.29 L444.49,62.96 L445.76,61.60 L447.03,60.21 L448.30,58.79 L449.57,57.35 L450.84,55.87 L452.11,54.37 L453.38,52.84 L454.65,51.28 L455.92,49.69 L457.18,48.07 L458.45,46.43 L459.72,44.75 L460.99,43.04 L462.26,41.30 L463.53,39.52 L464.80,37.72 L466.07,35.88 L467.34,34.01 L468.61,32.11 L469.88,30.18 L471.15,28.21 L472.42,26.21 L473.69,24.17 L474.96,22.10 L476.23,20.00 L477.50,17.86" stroke="#17b07b" stroke-width="1.35"/>
<path d="M351.80,109.83 L353.04,109.61 L354.29,109.38 L355.53,109.14 L356.78,108.90 L358.02,108.65 L359.27,108.40 L360.51,108.13 L361.76,107.86 L363.00,107.58 L364.24,107.29 L365.49,107.00 L366.73,106.69 L367.98,106.38 L369.22,106.05 L370.47,105.72 L371.71,105.37 L372.96,105.02 L374.20,104.65 L375.44,104.27 L376.69,103.88 L377.93,103.48 L379.18,103.07 L380.42,102.64 L381.67,102.20 L382.91,101.75 L384.16,101.28 L385.40,100.80 L386.64,100.31 L387.89,99.80 L389.13,99.28 L390.38,98.74 L391.62,98.18 L392.87,97.61 L394.11,97.03 L395.36,96.42 L396.60,95.81 L397.84,95.17 L399.09,94.52 L400.33,93.85 L401.58,93.16 L402.82,92.45 L404.07,91.72 L405.31,90.98 L406.56,90.22 L407.80,89.43 L409.04,88.63 L410.29,87.80 L411.53,86.96 L412.78,86.10 L414.02,85.21 L415.27,84.30 L416.51,83.37 L417.76,82.42 L419.00,81.45 L420.24,80.45 L421.49,79.43 L422.73,78.39 L423.98,77.32 L425.22,76.23 L426.47,75.11 L427.71,73.97 L428.96,72.81 L430.20,71.62 L431.44,70.40 L432.69,69.16 L433.93,67.89 L435.18,66.60 L436.42,65.28 L437.67,63.93 L438.91,62.55 L440.16,61.15 L441.40,59.72 L442.64,58.25 L443.89,56.77 L445.13,55.25 L446.38,53.70 L447.62,52.12 L448.87,50.51 L450.11,48.87 L451.36,47.21 L452.60,45.51 L453.84,43.78 L455.09,42.01 L456.33,40.22 L457.58,38.39 L458.82,36.53 L460.07,34.64 L461.31,32.71 L462.56,30.75 L463.80,28.76 L465.04,26.73 L466.29,24.67 L467.53,22.57 L468.78,20.44 L470.02,18.27 L471.27,16.07 L472.51,13.83 L473.76,11.55 L475.00,9.24" stroke="#c77dff" stroke-width="1.35"/>
<path d="M351.80,108.90 L352.95,108.74 L354.11,108.57 L355.26,108.39 L356.41,108.19 L357.57,107.99 L358.72,107.77 L359.87,107.54 L361.03,107.31 L362.18,107.05 L363.34,106.79 L364.49,106.51 L365.64,106.23 L366.80,105.93 L367.95,105.61 L369.10,105.28 L370.26,104.94 L371.41,104.59 L372.56,104.22 L373.72,103.84 L374.87,103.44 L376.02,103.03 L377.18,102.61 L378.33,102.17 L379.48,101.71 L380.64,101.24 L381.79,100.75 L382.95,100.25 L384.10,99.73 L385.25,99.20 L386.41,98.65 L387.56,98.08 L388.71,97.50 L389.87,96.90 L391.02,96.28 L392.17,95.65 L393.33,94.99 L394.48,94.32 L395.63,93.64 L396.79,92.93 L397.94,92.21 L399.09,91.46 L400.25,90.70 L401.40,89.92 L402.56,89.12 L403.71,88.30 L404.86,87.46 L406.02,86.60 L407.17,85.72 L408.32,84.82 L409.48,83.90 L410.63,82.96 L411.78,82.00 L412.94,81.02 L414.09,80.02 L415.24,78.99 L416.40,77.94 L417.55,76.88 L418.71,75.78 L419.86,74.67 L421.01,73.54 L422.17,72.38 L423.32,71.20 L424.47,69.99 L425.63,68.76 L426.78,67.51 L427.93,66.24 L429.09,64.94 L430.24,63.62 L431.39,62.27 L432.55,60.90 L433.70,59.50 L434.85,58.08 L436.01,56.63 L437.16,55.16 L438.32,53.66 L439.47,52.14 L440.62,50.59 L441.78,49.01 L442.93,47.41 L444.08,45.78 L445.24,44.12 L446.39,42.44 L447.54,40.73 L448.70,38.99 L449.85,37.23 L451.00,35.43 L452.16,33.61 L453.31,31.76 L454.46,29.88 L455.62,27.97 L456.77,26.04 L457.93,24.07 L459.08,22.08 L460.23,20.05 L461.39,18.00 L462.54,15.92 L463.69,13.80 L464.85,11.66 L466.00,9.48" stroke="#eba92a" stroke-width="1.35"/>
<path d="M351.80,107.26 L352.89,107.10 L353.99,106.93 L355.08,106.75 L356.17,106.55 L357.26,106.34 L358.36,106.12 L359.45,105.88 L360.54,105.62 L361.64,105.36 L362.73,105.08 L363.82,104.78 L364.92,104.47 L366.01,104.15 L367.10,103.81 L368.19,103.45 L369.29,103.08 L370.38,102.70 L371.47,102.30 L372.57,101.88 L373.66,101.45 L374.75,101.00 L375.84,100.54 L376.94,100.06 L378.03,99.56 L379.12,99.05 L380.22,98.52 L381.31,97.98 L382.40,97.41 L383.49,96.84 L384.59,96.24 L385.68,95.63 L386.77,95.00 L387.87,94.35 L388.96,93.69 L390.05,93.00 L391.15,92.30 L392.24,91.59 L393.33,90.85 L394.42,90.10 L395.52,89.33 L396.61,88.54 L397.70,87.73 L398.80,86.90 L399.89,86.05 L400.98,85.19 L402.07,84.31 L403.17,83.40 L404.26,82.48 L405.35,81.54 L406.45,80.58 L407.54,79.60 L408.63,78.60 L409.73,77.58 L410.82,76.54 L411.91,75.48 L413.00,74.40 L414.10,73.30 L415.19,72.18 L416.28,71.03 L417.38,69.87 L418.47,68.69 L419.56,67.48 L420.65,66.26 L421.75,65.01 L422.84,63.74 L423.93,62.45 L425.03,61.14 L426.12,59.81 L427.21,58.45 L428.31,57.07 L429.40,55.67 L430.49,54.25 L431.58,52.81 L432.68,51.34 L433.77,49.85 L434.86,48.34 L435.96,46.80 L437.05,45.24 L438.14,43.66 L439.23,42.06 L440.33,40.43 L441.42,38.78 L442.51,37.10 L443.61,35.40 L444.70,33.68 L445.79,31.93 L446.88,30.16 L447.98,28.36 L449.07,26.54 L450.16,24.70 L451.26,22.83 L452.35,20.93 L453.44,19.01 L454.54,17.07 L455.63,15.10 L456.72,13.10 L457.81,11.08 L458.91,9.03 L460.00,6.96" stroke="#19c9d6" stroke-width="1.35"/>
<path d="M351.80,107.76 L352.89,107.60 L353.99,107.43 L355.08,107.25 L356.17,107.05 L357.26,106.84 L358.36,106.62 L359.45,106.38 L360.54,106.12 L361.64,105.86 L362.73,105.58 L363.82,105.28 L364.92,104.97 L366.01,104.65 L367.10,104.31 L368.19,103.95 L369.29,103.58 L370.38,103.20 L371.47,102.80 L372.57,102.38 L373.66,101.95 L374.75,101.50 L375.84,101.04 L376.94,100.56 L378.03,100.06 L379.12,99.55 L380.22,99.02 L381.31,98.48 L382.40,97.91 L383.49,97.34 L384.59,96.74 L385.68,96.13 L386.77,95.50 L387.87,94.85 L388.96,94.19 L390.05,93.50 L391.15,92.80 L392.24,92.09 L393.33,91.35 L394.42,90.60 L395.52,89.83 L396.61,89.04 L397.70,88.23 L398.80,87.40 L399.89,86.55 L400.98,85.69 L402.07,84.81 L403.17,83.90 L404.26,82.98 L405.35,82.04 L406.45,81.08 L407.54,80.10 L408.63,79.10 L409.73,78.08 L410.82,77.04 L411.91,75.98 L413.00,74.90 L414.10,73.80 L415.19,72.68 L416.28,71.53 L417.38,70.37 L418.47,69.19 L419.56,67.98 L420.65,66.76 L421.75,65.51 L422.84,64.24 L423.93,62.95 L425.03,61.64 L426.12,60.31 L427.21,58.95 L428.31,57.57 L429.40,56.17 L430.49,54.75 L431.58,53.31 L432.68,51.84 L433.77,50.35 L434.86,48.84 L435.96,47.30 L437.05,45.74 L438.14,44.16 L439.23,42.56 L440.33,40.93 L441.42,39.28 L442.51,37.60 L443.61,35.90 L444.70,34.18 L445.79,32.43 L446.88,30.66 L447.98,28.86 L449.07,27.04 L450.16,25.20 L451.26,23.33 L452.35,21.43 L453.44,19.51 L454.54,17.57 L455.63,15.60 L456.72,13.60 L457.81,11.58 L458.91,9.53 L460.00,7.46" stroke="#8d6a6a" stroke-width="1.35"/>
</g>
<rect x="351.8" y="12.2" width="125.4" height="99.2" fill="none" stroke="#4a4a4a" stroke-width="1.2"/>
<line x1="351.8" y1="86.7" x2="354.3" y2="86.7" stroke="#3a3a3a" stroke-width="1.1"/>
<text x="348.9" y="86.7" font-size="10.2" text-anchor="end" font-weight="normal" fill="#222" dominant-baseline="central" stroke="#222" stroke-width="0.184">3</text>
<line x1="351.8" y1="49.5" x2="354.3" y2="49.5" stroke="#3a3a3a" stroke-width="1.1"/>
<text x="348.9" y="49.5" font-size="10.2" text-anchor="end" font-weight="normal" fill="#222" dominant-baseline="central" stroke="#222" stroke-width="0.184">6</text>
<line x1="351.8" y1="12.3" x2="354.3" y2="12.3" stroke="#3a3a3a" stroke-width="1.1"/>
<text x="348.9" y="12.3" font-size="10.2" text-anchor="end" font-weight="normal" fill="#222" dominant-baseline="central" stroke="#222" stroke-width="0.184">9</text>
<line x1="351.8" y1="111.4" x2="351.8" y2="108.9" stroke="#3a3a3a" stroke-width="1.1"/>
<text x="351.8" y="118.7" font-size="10.2" text-anchor="middle" font-weight="normal" fill="#222" dominant-baseline="central" stroke="#222" stroke-width="0.184">500</text>
<line x1="393.6" y1="111.4" x2="393.6" y2="108.9" stroke="#3a3a3a" stroke-width="1.1"/>
<text x="393.6" y="118.7" font-size="10.2" text-anchor="middle" font-weight="normal" fill="#222" dominant-baseline="central" stroke="#222" stroke-width="0.184">600</text>
<line x1="435.4" y1="111.4" x2="435.4" y2="108.9" stroke="#3a3a3a" stroke-width="1.1"/>
<text x="435.4" y="118.7" font-size="10.2" text-anchor="middle" font-weight="normal" fill="#222" dominant-baseline="central" stroke="#222" stroke-width="0.184">700</text>
<line x1="477.2" y1="111.4" x2="477.2" y2="108.9" stroke="#3a3a3a" stroke-width="1.1"/>
<text x="477.2" y="118.7" font-size="10.2" text-anchor="middle" font-weight="normal" fill="#222" dominant-baseline="central" stroke="#222" stroke-width="0.184">800</text>
<line x1="355.2" y1="19.6" x2="371.7" y2="19.6" stroke="#ff7373" stroke-width="1.7"/>
<text x="373.4" y="20" font-size="8.2" text-anchor="start" font-weight="bold" fill="#222" dominant-baseline="central" stroke="#222" stroke-width="0.164" textLength="17.6" lengthAdjust="spacingAndGlyphs">PVT0</text>
<line x1="355.2" y1="29.1" x2="371.7" y2="29.1" stroke="#33bf8c" stroke-width="1.7"/>
<text x="373.4" y="29.5" font-size="8.2" text-anchor="start" font-weight="bold" fill="#222" dominant-baseline="central" stroke="#222" stroke-width="0.164" textLength="17.6" lengthAdjust="spacingAndGlyphs">PVT2</text>
<line x1="355.2" y1="38.5" x2="371.7" y2="38.5" stroke="#f0b443" stroke-width="1.7"/>
<text x="373.4" y="38.9" font-size="8.2" text-anchor="start" font-weight="bold" fill="#222" dominant-baseline="central" stroke="#222" stroke-width="0.164" textLength="17.6" lengthAdjust="spacingAndGlyphs">PVT4</text>
<line x1="355.2" y1="47.7" x2="371.7" y2="47.7" stroke="#9e7e7e" stroke-width="1.7"/>
<text x="373.4" y="48.1" font-size="8.2" text-anchor="start" font-weight="bold" fill="#222" dominant-baseline="central" stroke="#222" stroke-width="0.164" textLength="17.6" lengthAdjust="spacingAndGlyphs">PVT6</text>
<line x1="395" y1="19.6" x2="411.5" y2="19.6" stroke="#4a8de0" stroke-width="1.7"/>
<text x="413.2" y="20" font-size="8.2" text-anchor="start" font-weight="bold" fill="#222" dominant-baseline="central" stroke="#222" stroke-width="0.164" textLength="17.6" lengthAdjust="spacingAndGlyphs">PVT1</text>
<line x1="395" y1="29.1" x2="411.5" y2="29.1" stroke="#d497ff" stroke-width="1.7"/>
<text x="413.2" y="29.5" font-size="8.2" text-anchor="start" font-weight="bold" fill="#222" dominant-baseline="central" stroke="#222" stroke-width="0.164" textLength="17.6" lengthAdjust="spacingAndGlyphs">PVT3</text>
<line x1="395" y1="38.5" x2="411.5" y2="38.5" stroke="#35d0dd" stroke-width="1.7"/>
<text x="413.2" y="38.9" font-size="8.2" text-anchor="start" font-weight="bold" fill="#222" dominant-baseline="central" stroke="#222" stroke-width="0.164" textLength="17.6" lengthAdjust="spacingAndGlyphs">PVT5</text>
<rect x="35.2" y="397.492" width="23.8" height="9.108" fill="#9fc3ef" stroke="#4a4a4a" stroke-width="0.7"/>
<rect x="35.2" y="383.764" width="23.8" height="13.728" fill="#a6e2b0" stroke="#4a4a4a" stroke-width="0.7"/>
<rect x="35.2" y="335.788" width="23.8" height="47.976" fill="#fdcf9f" stroke="#4a4a4a" stroke-width="0.7"/>
<text x="47.1" y="402.092" font-size="8" text-anchor="middle" font-weight="normal" fill="#1a1a1a" dominant-baseline="central" stroke="#1a1a1a" stroke-width="0.240">0.69</text>
<text x="47.1" y="388.664" font-size="8" text-anchor="middle" font-weight="normal" fill="#1a1a1a" dominant-baseline="central" stroke="#1a1a1a" stroke-width="0.240">1.04</text>
<text x="47.1" y="340.788" font-size="8" text-anchor="middle" font-weight="normal" fill="#1a1a1a" dominant-baseline="central" stroke="#1a1a1a" stroke-width="0.240">3.68</text>
<line x1="47.1" y1="406.6" x2="47.1" y2="404.1" stroke="#1a1a1a" stroke-width="1.1"/>
<text x="47.1" y="415.1" font-size="8.6" text-anchor="middle" font-weight="normal" fill="#444" dominant-baseline="central" stroke="#444" stroke-width="0.103" textLength="18.2" lengthAdjust="spacingAndGlyphs">PVT0</text>
<line x1="47.1" y1="256.2" x2="47.1" y2="270.4" stroke="#f6a2a2" stroke-width="0.55"/>
<line x1="45.3" y1="256.2" x2="48.9" y2="256.2" stroke="#f6a2a2" stroke-width="0.55"/>
<line x1="45.3" y1="270.4" x2="48.9" y2="270.4" stroke="#f6a2a2" stroke-width="0.55"/>
<rect x="69.03" y="396.964" width="23.8" height="9.636" fill="#9fc3ef" stroke="#4a4a4a" stroke-width="0.7"/>
<rect x="69.03" y="383.236" width="23.8" height="13.728" fill="#a6e2b0" stroke="#4a4a4a" stroke-width="0.7"/>
<rect x="69.03" y="331.828" width="23.8" height="51.408" fill="#fdcf9f" stroke="#4a4a4a" stroke-width="0.7"/>
<text x="80.93" y="401.564" font-size="8" text-anchor="middle" font-weight="normal" fill="#1a1a1a" dominant-baseline="central" stroke="#1a1a1a" stroke-width="0.240">0.73</text>
<text x="80.93" y="388.136" font-size="8" text-anchor="middle" font-weight="normal" fill="#1a1a1a" dominant-baseline="central" stroke="#1a1a1a" stroke-width="0.240">1.04</text>
<text x="80.93" y="336.828" font-size="8" text-anchor="middle" font-weight="normal" fill="#1a1a1a" dominant-baseline="central" stroke="#1a1a1a" stroke-width="0.240">3.94</text>
<line x1="80.93" y1="406.6" x2="80.93" y2="404.1" stroke="#1a1a1a" stroke-width="1.1"/>
<text x="80.93" y="415.1" font-size="8.6" text-anchor="middle" font-weight="normal" fill="#444" dominant-baseline="central" stroke="#444" stroke-width="0.103" textLength="18.2" lengthAdjust="spacingAndGlyphs">PVT1</text>
<line x1="80.93" y1="258.4" x2="80.93" y2="264.7" stroke="#f6a2a2" stroke-width="0.55"/>
<line x1="79.13" y1="258.4" x2="82.73" y2="258.4" stroke="#f6a2a2" stroke-width="0.55"/>
<line x1="79.13" y1="264.7" x2="82.73" y2="264.7" stroke="#f6a2a2" stroke-width="0.55"/>
<rect x="102.86" y="396.568" width="23.8" height="10.032" fill="#9fc3ef" stroke="#4a4a4a" stroke-width="0.7"/>
<rect x="102.86" y="381.652" width="23.8" height="14.916" fill="#a6e2b0" stroke="#4a4a4a" stroke-width="0.7"/>
<rect x="102.86" y="325.624" width="23.8" height="56.028" fill="#fdcf9f" stroke="#4a4a4a" stroke-width="0.7"/>
<text x="114.76" y="401.168" font-size="8" text-anchor="middle" font-weight="normal" fill="#1a1a1a" dominant-baseline="central" stroke="#1a1a1a" stroke-width="0.240">0.76</text>
<text x="114.76" y="386.552" font-size="8" text-anchor="middle" font-weight="normal" fill="#1a1a1a" dominant-baseline="central" stroke="#1a1a1a" stroke-width="0.240">1.13</text>
<text x="114.76" y="330.624" font-size="8" text-anchor="middle" font-weight="normal" fill="#1a1a1a" dominant-baseline="central" stroke="#1a1a1a" stroke-width="0.240">4.29</text>
<line x1="114.76" y1="406.6" x2="114.76" y2="404.1" stroke="#1a1a1a" stroke-width="1.1"/>
<text x="114.76" y="415.1" font-size="8.6" text-anchor="middle" font-weight="normal" fill="#444" dominant-baseline="central" stroke="#444" stroke-width="0.103" textLength="18.2" lengthAdjust="spacingAndGlyphs">PVT2</text>
<line x1="114.76" y1="253.3" x2="114.76" y2="266" stroke="#f6a2a2" stroke-width="0.55"/>
<line x1="112.96" y1="253.3" x2="116.56" y2="253.3" stroke="#f6a2a2" stroke-width="0.55"/>
<line x1="112.96" y1="266" x2="116.56" y2="266" stroke="#f6a2a2" stroke-width="0.55"/>
<rect x="136.69" y="396.172" width="23.8" height="10.428" fill="#9fc3ef" stroke="#4a4a4a" stroke-width="0.7"/>
<rect x="136.69" y="380.068" width="23.8" height="16.104" fill="#a6e2b0" stroke="#4a4a4a" stroke-width="0.7"/>
<rect x="136.69" y="308.464" width="23.8" height="71.604" fill="#fdcf9f" stroke="#4a4a4a" stroke-width="0.7"/>
<text x="148.59" y="400.772" font-size="8" text-anchor="middle" font-weight="normal" fill="#1a1a1a" dominant-baseline="central" stroke="#1a1a1a" stroke-width="0.240">0.79</text>
<text x="148.59" y="384.968" font-size="8" text-anchor="middle" font-weight="normal" fill="#1a1a1a" dominant-baseline="central" stroke="#1a1a1a" stroke-width="0.240">1.22</text>
<text x="148.59" y="313.464" font-size="8" text-anchor="middle" font-weight="normal" fill="#1a1a1a" dominant-baseline="central" stroke="#1a1a1a" stroke-width="0.240">5.47</text>
<line x1="148.59" y1="406.6" x2="148.59" y2="404.1" stroke="#1a1a1a" stroke-width="1.1"/>
<text x="148.59" y="415.1" font-size="8.6" text-anchor="middle" font-weight="normal" fill="#444" dominant-baseline="central" stroke="#444" stroke-width="0.103" textLength="18.2" lengthAdjust="spacingAndGlyphs">PVT3</text>
<line x1="148.59" y1="252" x2="148.59" y2="265.5" stroke="#f6a2a2" stroke-width="0.55"/>
<line x1="146.79" y1="252" x2="150.39" y2="252" stroke="#f6a2a2" stroke-width="0.55"/>
<line x1="146.79" y1="265.5" x2="150.39" y2="265.5" stroke="#f6a2a2" stroke-width="0.55"/>
<rect x="170.52" y="396.04" width="23.8" height="10.56" fill="#9fc3ef" stroke="#4a4a4a" stroke-width="0.7"/>
<rect x="170.52" y="379.54" width="23.8" height="16.5" fill="#a6e2b0" stroke="#4a4a4a" stroke-width="0.7"/>
<rect x="170.52" y="303.844" width="23.8" height="75.696" fill="#fdcf9f" stroke="#4a4a4a" stroke-width="0.7"/>
<text x="182.42" y="400.64" font-size="8" text-anchor="middle" font-weight="normal" fill="#1a1a1a" dominant-baseline="central" stroke="#1a1a1a" stroke-width="0.240">0.80</text>
<text x="182.42" y="384.44" font-size="8" text-anchor="middle" font-weight="normal" fill="#1a1a1a" dominant-baseline="central" stroke="#1a1a1a" stroke-width="0.240">1.25</text>
<text x="182.42" y="308.844" font-size="8" text-anchor="middle" font-weight="normal" fill="#1a1a1a" dominant-baseline="central" stroke="#1a1a1a" stroke-width="0.240">5.78</text>
<line x1="182.42" y1="406.6" x2="182.42" y2="404.1" stroke="#1a1a1a" stroke-width="1.1"/>
<text x="182.42" y="415.1" font-size="8.6" text-anchor="middle" font-weight="normal" fill="#444" dominant-baseline="central" stroke="#444" stroke-width="0.103" textLength="18.2" lengthAdjust="spacingAndGlyphs">PVT4</text>
<line x1="182.42" y1="256.7" x2="182.42" y2="269" stroke="#f6a2a2" stroke-width="0.55"/>
<line x1="180.62" y1="256.7" x2="184.22" y2="256.7" stroke="#f6a2a2" stroke-width="0.55"/>
<line x1="180.62" y1="269" x2="184.22" y2="269" stroke="#f6a2a2" stroke-width="0.55"/>
<rect x="204.35" y="395.644" width="23.8" height="10.956" fill="#9fc3ef" stroke="#4a4a4a" stroke-width="0.7"/>
<rect x="204.35" y="378.616" width="23.8" height="17.028" fill="#a6e2b0" stroke="#4a4a4a" stroke-width="0.7"/>
<rect x="204.35" y="301.732" width="23.8" height="76.884" fill="#fdcf9f" stroke="#4a4a4a" stroke-width="0.7"/>
<text x="216.25" y="400.244" font-size="8" text-anchor="middle" font-weight="normal" fill="#1a1a1a" dominant-baseline="central" stroke="#1a1a1a" stroke-width="0.240">0.83</text>
<text x="216.25" y="383.516" font-size="8" text-anchor="middle" font-weight="normal" fill="#1a1a1a" dominant-baseline="central" stroke="#1a1a1a" stroke-width="0.240">1.29</text>
<text x="216.25" y="306.732" font-size="8" text-anchor="middle" font-weight="normal" fill="#1a1a1a" dominant-baseline="central" stroke="#1a1a1a" stroke-width="0.240">5.87</text>
<line x1="216.25" y1="406.6" x2="216.25" y2="404.1" stroke="#1a1a1a" stroke-width="1.1"/>
<text x="216.25" y="415.1" font-size="8.6" text-anchor="middle" font-weight="normal" fill="#444" dominant-baseline="central" stroke="#444" stroke-width="0.103" textLength="18.2" lengthAdjust="spacingAndGlyphs">PVT5</text>
<line x1="216.25" y1="256.2" x2="216.25" y2="267.6" stroke="#f6a2a2" stroke-width="0.55"/>
<line x1="214.45" y1="256.2" x2="218.05" y2="256.2" stroke="#f6a2a2" stroke-width="0.55"/>
<line x1="214.45" y1="267.6" x2="218.05" y2="267.6" stroke="#f6a2a2" stroke-width="0.55"/>
<rect x="238.18" y="395.248" width="23.8" height="11.352" fill="#9fc3ef" stroke="#4a4a4a" stroke-width="0.7"/>
<rect x="238.18" y="377.692" width="23.8" height="17.556" fill="#a6e2b0" stroke="#4a4a4a" stroke-width="0.7"/>
<rect x="238.18" y="297.772" width="23.8" height="79.92" fill="#fdcf9f" stroke="#4a4a4a" stroke-width="0.7"/>
<text x="250.08" y="399.848" font-size="8" text-anchor="middle" font-weight="normal" fill="#1a1a1a" dominant-baseline="central" stroke="#1a1a1a" stroke-width="0.240">0.86</text>
<text x="250.08" y="382.592" font-size="8" text-anchor="middle" font-weight="normal" fill="#1a1a1a" dominant-baseline="central" stroke="#1a1a1a" stroke-width="0.240">1.33</text>
<text x="250.08" y="302.772" font-size="8" text-anchor="middle" font-weight="normal" fill="#1a1a1a" dominant-baseline="central" stroke="#1a1a1a" stroke-width="0.240">6.10</text>
<line x1="250.08" y1="406.6" x2="250.08" y2="404.1" stroke="#1a1a1a" stroke-width="1.1"/>
<text x="250.08" y="415.1" font-size="8.6" text-anchor="middle" font-weight="normal" fill="#444" dominant-baseline="central" stroke="#444" stroke-width="0.103" textLength="18.2" lengthAdjust="spacingAndGlyphs">PVT6</text>
<line x1="250.08" y1="258.4" x2="250.08" y2="266.8" stroke="#f6a2a2" stroke-width="0.55"/>
<line x1="248.28" y1="258.4" x2="251.88" y2="258.4" stroke="#f6a2a2" stroke-width="0.55"/>
<line x1="248.28" y1="266.8" x2="251.88" y2="266.8" stroke="#f6a2a2" stroke-width="0.55"/>
<path d="M47.10,263.15 L80.93,261.64 L114.76,258.42 L148.59,258.82 L182.42,262.95 L216.25,261.74 L250.08,262.45" fill="none" stroke="#ff2a2a" stroke-width="1.3"/>
<circle cx="47.1" cy="263.15" r="1.9" fill="#ff1a1a"/>
<text x="47.1" y="252.75" font-size="8.5" text-anchor="middle" font-weight="normal" fill="#ff3636" dominant-baseline="central" stroke="#ff3636" stroke-width="0.102">925</text>
<circle cx="80.93" cy="261.64" r="1.9" fill="#ff1a1a"/>
<text x="80.93" y="251.24" font-size="8.5" text-anchor="middle" font-weight="normal" fill="#ff3636" dominant-baseline="central" stroke="#ff3636" stroke-width="0.102">940</text>
<circle cx="114.76" cy="258.419" r="1.9" fill="#ff1a1a"/>
<text x="114.76" y="248.019" font-size="8.5" text-anchor="middle" font-weight="normal" fill="#ff3636" dominant-baseline="central" stroke="#ff3636" stroke-width="0.102">972</text>
<circle cx="148.59" cy="258.821" r="1.9" fill="#ff1a1a"/>
<text x="148.59" y="248.421" font-size="8.5" text-anchor="middle" font-weight="normal" fill="#ff3636" dominant-baseline="central" stroke="#ff3636" stroke-width="0.102">968</text>
<circle cx="182.42" cy="262.949" r="1.9" fill="#ff1a1a"/>
<text x="182.42" y="252.549" font-size="8.5" text-anchor="middle" font-weight="normal" fill="#ff3636" dominant-baseline="central" stroke="#ff3636" stroke-width="0.102">927</text>
<circle cx="216.25" cy="261.741" r="1.9" fill="#ff1a1a"/>
<text x="216.25" y="251.341" font-size="8.5" text-anchor="middle" font-weight="normal" fill="#ff3636" dominant-baseline="central" stroke="#ff3636" stroke-width="0.102">939</text>
<circle cx="250.08" cy="262.445" r="1.9" fill="#ff1a1a"/>
<text x="250.08" y="252.045" font-size="8.5" text-anchor="middle" font-weight="normal" fill="#ff3636" dominant-baseline="central" stroke="#ff3636" stroke-width="0.102">932</text>
<rect x="30.5" y="235.8" width="236.1" height="170.8" fill="none" stroke="#1a1a1a" stroke-width="1.7"/>
<line x1="30.5" y1="406.6" x2="33.5" y2="406.6" stroke="#1a1a1a" stroke-width="1.3"/>
<text x="27" y="406.6" font-size="9.2" text-anchor="end" font-weight="normal" fill="#222" dominant-baseline="central" stroke="#222" stroke-width="0.110">0</text>
<line x1="30.5" y1="380.2" x2="33.5" y2="380.2" stroke="#1a1a1a" stroke-width="1.3"/>
<text x="27" y="380.2" font-size="9.2" text-anchor="end" font-weight="normal" fill="#222" dominant-baseline="central" stroke="#222" stroke-width="0.110">2</text>
<line x1="30.5" y1="353.8" x2="33.5" y2="353.8" stroke="#1a1a1a" stroke-width="1.3"/>
<text x="27" y="353.8" font-size="9.2" text-anchor="end" font-weight="normal" fill="#222" dominant-baseline="central" stroke="#222" stroke-width="0.110">4</text>
<line x1="30.5" y1="327.4" x2="33.5" y2="327.4" stroke="#1a1a1a" stroke-width="1.3"/>
<text x="27" y="327.4" font-size="9.2" text-anchor="end" font-weight="normal" fill="#222" dominant-baseline="central" stroke="#222" stroke-width="0.110">6</text>
<line x1="30.5" y1="301" x2="33.5" y2="301" stroke="#1a1a1a" stroke-width="1.3"/>
<text x="27" y="301" font-size="9.2" text-anchor="end" font-weight="normal" fill="#222" dominant-baseline="central" stroke="#222" stroke-width="0.110">8</text>
<line x1="266.6" y1="255.6" x2="263.6" y2="255.6" stroke="#1a1a1a" stroke-width="1.3"/>
<text x="269.9" y="255.6" font-size="9.3" text-anchor="start" font-weight="normal" fill="#222" dominant-baseline="central" stroke="#222" stroke-width="0.112">1000</text>
<line x1="266.6" y1="270.7" x2="263.6" y2="270.7" stroke="#1a1a1a" stroke-width="1.3"/>
<text x="269.9" y="270.7" font-size="9.3" text-anchor="start" font-weight="normal" fill="#222" dominant-baseline="central" stroke="#222" stroke-width="0.112">850</text>
<rect x="36.6" y="276.2" width="95.8" height="37.8" fill="#ffffff" stroke="#d0d0d0" stroke-width="0.8"/>
<line x1="37.8" y1="281.6" x2="55.6" y2="281.6" stroke="#ff2a2a" stroke-width="1.3"/>
<circle cx="47" cy="281.6" r="2" fill="#ff1a1a"/>
<text x="62.2" y="281.4" font-size="8.6" text-anchor="start" font-weight="normal" fill="#222" dominant-baseline="central" stroke="#222" stroke-width="0.103" textLength="60.5" lengthAdjust="spacingAndGlyphs">Elongation at break</text>
<rect x="38.2" y="287.2" width="16.8" height="8" fill="#fdcf9f" stroke="#4a4a4a" stroke-width="0.7"/>
<rect x="38.2" y="296.4" width="16.8" height="8" fill="#a6e2b0" stroke="#4a4a4a" stroke-width="0.7"/>
<rect x="38.2" y="305.5" width="16.8" height="8" fill="#9fc3ef" stroke="#4a4a4a" stroke-width="0.7"/>
<text x="61.5" y="290.8" font-size="8.6" text-anchor="start" font-weight="normal" fill="#222" dominant-baseline="central" stroke="#222" stroke-width="0.103" textLength="68.3" lengthAdjust="spacingAndGlyphs">Tensile stress at 700%</text>
<text x="61.5" y="300.3" font-size="8.6" text-anchor="start" font-weight="normal" fill="#222" dominant-baseline="central" stroke="#222" stroke-width="0.103" textLength="68.3" lengthAdjust="spacingAndGlyphs">Tensile stress at 500%</text>
<text x="61.5" y="309.4" font-size="8.6" text-anchor="start" font-weight="normal" fill="#222" dominant-baseline="central" stroke="#222" stroke-width="0.103" textLength="68.3" lengthAdjust="spacingAndGlyphs">Tensile stress at 300%</text>
<text x="10.2" y="336.8" font-size="9.2" text-anchor="middle" font-weight="normal" fill="#222" dominant-baseline="central" stroke="#222" stroke-width="0.110" transform="rotate(-90 10.2 336.8)">Tensile stress ( MPa )</text>
<text x="277.2" y="339.2" font-size="9" text-anchor="middle" font-weight="normal" fill="#222" dominant-baseline="central" stroke="#222" stroke-width="0.108" transform="rotate(-90 277.2 339.2)">Elongation at break ( % )</text>
<text x="143.8" y="437.4" font-size="13" text-anchor="middle" font-weight="bold" fill="#111" dominant-baseline="central" stroke="#111" stroke-width="0.260">( c )</text>
<g clip-path="url(#cd)" fill="none" stroke-linejoin="round" stroke-linecap="round">
<path d="M325.99,397.95 L327.07,397.44 L328.15,396.97 L329.23,396.55 L330.30,396.16 L331.38,395.82 L332.46,395.50 L333.54,395.21 L334.62,394.96 L335.70,394.72 L336.78,394.51 L337.86,394.32 L338.94,394.14 L340.02,393.98 L341.09,393.84 L342.17,393.71 L343.25,393.59 L344.33,393.48 L345.41,393.39 L346.49,393.30 L347.57,393.22 L348.65,393.15 L349.73,393.08 L350.81,393.02 L351.88,392.97 L352.96,392.92 L354.04,392.88 L355.12,392.84 L356.20,392.80 L357.28,392.77 L358.36,392.74 L359.44,392.71 L360.52,392.68 L361.60,392.66 L362.67,392.64 L363.75,392.62 L364.83,392.60 L365.91,392.59 L366.99,392.57 L368.07,392.56 L369.15,392.55 L370.23,392.53 L371.31,392.52 L372.39,392.51 L373.46,392.50 L374.54,392.49 L375.62,392.48 L376.70,392.47 L377.78,392.46 L378.86,392.46 L379.94,392.45 L381.02,392.44 L382.10,392.42 L383.18,392.41 L384.26,392.40 L385.33,392.39 L386.41,392.37 L387.49,392.35 L388.57,392.34 L389.65,392.32 L390.73,392.29 L391.81,392.27 L392.89,392.24 L393.97,392.20 L395.05,392.17 L396.12,392.12 L397.20,392.08 L398.28,392.02 L399.36,391.96 L400.44,391.89 L401.52,391.80 L402.60,391.71 L403.68,391.61 L404.76,391.48 L405.84,391.35 L406.91,391.19 L407.99,391.01 L409.07,390.80 L410.15,390.57 L411.23,390.30 L412.31,390.00 L413.39,389.65 L414.47,389.25 L415.55,388.80 L416.63,388.28 L417.70,387.68 L418.78,387.01 L419.86,386.24 L420.94,385.35 L422.02,384.35 L423.10,383.20" stroke="#3d3dff" stroke-width="0.8"/>
<path d="M325.99,397.95 L327.34,397.31 L328.69,396.75 L330.04,396.25 L331.39,395.81 L332.74,395.42 L334.09,395.08 L335.44,394.78 L336.79,394.51 L338.14,394.27 L339.49,394.06 L340.84,393.87 L342.19,393.71 L343.54,393.56 L344.89,393.43 L346.24,393.32 L347.59,393.22 L348.94,393.13 L350.29,393.05 L351.64,392.98 L352.99,392.92 L354.34,392.87 L355.69,392.82 L357.04,392.78 L358.39,392.74 L359.74,392.70 L361.09,392.67 L362.44,392.65 L363.79,392.63 L365.14,392.60 L366.49,392.59 L367.84,392.57 L369.19,392.56 L370.54,392.54 L371.89,392.53 L373.24,392.52 L374.59,392.51 L375.94,392.50 L377.29,392.50 L378.64,392.49 L379.99,392.48 L381.34,392.48 L382.69,392.47 L384.04,392.47 L385.39,392.46 L386.74,392.46 L388.09,392.45 L389.44,392.45 L390.79,392.44 L392.14,392.43 L393.49,392.43 L394.84,392.42 L396.19,392.41 L397.55,392.41 L398.90,392.40 L400.25,392.39 L401.60,392.38 L402.95,392.36 L404.30,392.35 L405.65,392.33 L407.00,392.31 L408.35,392.29 L409.70,392.26 L411.05,392.23 L412.40,392.20 L413.75,392.16 L415.10,392.12 L416.45,392.06 L417.80,392.00 L419.15,391.93 L420.50,391.85 L421.85,391.76 L423.20,391.65 L424.55,391.53 L425.90,391.39 L427.25,391.22 L428.60,391.03 L429.95,390.81 L431.30,390.56 L432.65,390.26 L434.00,389.92 L435.35,389.53 L436.70,389.08 L438.05,388.56 L439.40,387.96 L440.75,387.26 L442.10,386.46 L443.45,385.53 L444.80,384.46 L446.15,383.22 L447.50,381.80" stroke="#3d3dff" stroke-width="0.8"/>
<path d="M325.99,397.95 L327.61,397.20 L329.23,396.54 L330.85,395.98 L332.47,395.50 L334.09,395.08 L335.72,394.72 L337.34,394.41 L338.96,394.14 L340.58,393.91 L342.20,393.71 L343.82,393.53 L345.44,393.39 L347.06,393.26 L348.69,393.15 L350.31,393.05 L351.93,392.97 L353.55,392.90 L355.17,392.84 L356.79,392.78 L358.41,392.74 L360.03,392.70 L361.66,392.66 L363.28,392.63 L364.90,392.61 L366.52,392.59 L368.14,392.57 L369.76,392.55 L371.38,392.54 L373.00,392.53 L374.63,392.52 L376.25,392.51 L377.87,392.50 L379.49,392.49 L381.11,392.49 L382.73,392.48 L384.35,392.48 L385.97,392.47 L387.60,392.47 L389.22,392.47 L390.84,392.46 L392.46,392.46 L394.08,392.46 L395.70,392.46 L397.32,392.45 L398.94,392.45 L400.57,392.45 L402.19,392.45 L403.81,392.45 L405.43,392.44 L407.05,392.44 L408.67,392.44 L410.29,392.43 L411.91,392.43 L413.54,392.43 L415.16,392.42 L416.78,392.41 L418.40,392.41 L420.02,392.40 L421.64,392.39 L423.26,392.37 L424.88,392.36 L426.51,392.34 L428.13,392.32 L429.75,392.29 L431.37,392.26 L432.99,392.22 L434.61,392.18 L436.23,392.12 L437.85,392.06 L439.48,391.98 L441.10,391.89 L442.72,391.78 L444.34,391.64 L445.96,391.48 L447.58,391.29 L449.20,391.07 L450.82,390.80 L452.45,390.47 L454.07,390.08 L455.69,389.61 L457.31,389.06 L458.93,388.39 L460.55,387.59 L462.17,386.64 L463.79,385.50 L465.42,384.13 L467.04,382.49 L468.66,380.54 L470.28,378.20 L471.90,375.40" stroke="#3d3dff" stroke-width="0.8"/>
<path d="M325.99,397.95 L327.88,397.08 L329.77,396.35 L331.67,395.73 L333.56,395.21 L335.45,394.77 L337.34,394.41 L339.23,394.10 L341.13,393.84 L343.02,393.62 L344.91,393.43 L346.80,393.28 L348.70,393.15 L350.59,393.04 L352.48,392.94 L354.37,392.87 L356.27,392.80 L358.16,392.74 L360.05,392.70 L361.94,392.66 L363.84,392.63 L365.73,392.60 L367.62,392.57 L369.51,392.56 L371.40,392.54 L373.30,392.52 L375.19,392.51 L377.08,392.50 L378.97,392.49 L380.87,392.49 L382.76,392.48 L384.65,392.48 L386.54,392.47 L388.44,392.47 L390.33,392.47 L392.22,392.46 L394.11,392.46 L396.01,392.46 L397.90,392.46 L399.79,392.46 L401.68,392.46 L403.57,392.46 L405.47,392.45 L407.36,392.45 L409.25,392.45 L411.14,392.45 L413.04,392.45 L414.93,392.45 L416.82,392.45 L418.71,392.45 L420.61,392.45 L422.50,392.45 L424.39,392.45 L426.28,392.44 L428.18,392.44 L430.07,392.44 L431.96,392.44 L433.85,392.43 L435.74,392.43 L437.64,392.42 L439.53,392.42 L441.42,392.41 L443.31,392.40 L445.21,392.38 L447.10,392.36 L448.99,392.34 L450.88,392.31 L452.78,392.28 L454.67,392.23 L456.56,392.17 L458.45,392.10 L460.35,392.01 L462.24,391.89 L464.13,391.74 L466.02,391.56 L467.91,391.32 L469.81,391.03 L471.70,390.65 L473.59,390.18 L475.48,389.59 L477.38,388.84 L479.27,387.89 L481.16,386.70 L483.05,385.19 L484.95,383.29 L486.84,380.88 L488.73,377.85 L490.62,374.03 L492.52,369.21 L494.41,363.12 L496.30,355.43" stroke="#3d3dff" stroke-width="0.8"/>
<path d="M325.99,397.95 L327.88,397.08 L329.77,396.35 L331.67,395.73 L333.56,395.21 L335.45,394.77 L337.34,394.41 L339.23,394.10 L341.13,393.84 L343.02,393.62 L344.91,393.43 L346.80,393.28 L348.70,393.15 L350.59,393.04 L352.48,392.94 L354.37,392.86 L356.27,392.80 L358.16,392.74 L360.05,392.70 L361.94,392.66 L363.84,392.62 L365.73,392.60 L367.62,392.57 L369.51,392.55 L371.40,392.53 L373.30,392.52 L375.19,392.51 L377.08,392.50 L378.97,392.49 L380.87,392.48 L382.76,392.47 L384.65,392.47 L386.54,392.46 L388.44,392.46 L390.33,392.45 L392.22,392.45 L394.11,392.44 L396.01,392.44 L397.90,392.43 L399.79,392.43 L401.68,392.42 L403.57,392.42 L405.47,392.41 L407.36,392.40 L409.25,392.39 L411.14,392.38 L413.04,392.37 L414.93,392.36 L416.82,392.35 L418.71,392.33 L420.61,392.31 L422.50,392.29 L424.39,392.27 L426.28,392.24 L428.18,392.21 L430.07,392.17 L431.96,392.13 L433.85,392.08 L435.74,392.03 L437.64,391.96 L439.53,391.89 L441.42,391.80 L443.31,391.71 L445.21,391.60 L447.10,391.47 L448.99,391.32 L450.88,391.15 L452.78,390.96 L454.67,390.73 L456.56,390.48 L458.45,390.18 L460.35,389.84 L462.24,389.45 L464.13,389.00 L466.02,388.48 L467.91,387.89 L469.81,387.21 L471.70,386.42 L473.59,385.52 L475.48,384.48 L477.38,383.29 L479.27,381.91 L481.16,380.33 L483.05,378.52 L484.95,376.43 L486.84,374.03 L488.73,371.27 L490.62,368.10 L492.52,364.45 L494.41,360.26 L496.30,355.43" stroke="#3d3dff" stroke-width="0.8"/>
<path d="M325.99,397.95 L328.15,396.97 L330.31,396.16 L332.48,395.50 L334.64,394.95 L336.81,394.50 L338.97,394.14 L341.13,393.84 L343.30,393.59 L345.46,393.38 L347.62,393.22 L349.79,393.08 L351.95,392.97 L354.11,392.88 L356.28,392.80 L358.44,392.74 L360.60,392.69 L362.77,392.64 L364.93,392.61 L367.09,392.58 L369.26,392.56 L371.42,392.54 L373.58,392.52 L375.75,392.51 L377.91,392.50 L380.07,392.49 L382.24,392.48 L384.40,392.48 L386.57,392.47 L388.73,392.47 L390.89,392.47 L393.06,392.46 L395.22,392.46 L397.38,392.46 L399.55,392.46 L401.71,392.46 L403.87,392.46 L406.04,392.45 L408.20,392.45 L410.36,392.45 L412.53,392.45 L414.69,392.45 L416.85,392.45 L419.02,392.45 L421.18,392.45 L423.34,392.45 L425.51,392.45 L427.67,392.45 L429.83,392.45 L432.00,392.45 L434.16,392.45 L436.32,392.45 L438.49,392.45 L440.65,392.45 L442.82,392.45 L444.98,392.45 L447.14,392.45 L449.31,392.45 L451.47,392.45 L453.63,392.45 L455.80,392.45 L457.96,392.45 L460.12,392.45 L462.29,392.45 L464.45,392.44 L466.61,392.44 L468.78,392.43 L470.94,392.43 L473.10,392.42 L475.27,392.40 L477.43,392.38 L479.59,392.35 L481.76,392.31 L483.92,392.25 L486.08,392.17 L488.25,392.05 L490.41,391.88 L492.57,391.63 L494.74,391.28 L496.90,390.78 L499.07,390.08 L501.23,389.06 L503.39,387.62 L505.56,385.57 L507.72,382.64 L509.88,378.46 L512.05,372.51 L514.21,364.02 L516.37,351.91 L518.54,334.65 L520.70,310.05" stroke="#3d3dff" stroke-width="0.8"/>
<path d="M325.50,398.20 L326.66,397.17 L327.83,396.38 L328.99,395.77 L330.16,395.23 L331.32,394.76 L332.48,394.34 L333.65,393.93 L334.81,393.54 L335.98,393.16 L337.14,392.79 L338.30,392.45 L339.47,392.12 L340.63,391.82 L341.80,391.53 L342.96,391.28 L344.12,391.04 L345.29,390.83 L346.45,390.64 L347.62,390.46 L348.78,390.29 L349.94,390.13 L351.11,389.97 L352.27,389.83 L353.44,389.69 L354.60,389.55 L355.76,389.42 L356.93,389.29 L358.09,389.16 L359.26,389.04 L360.42,388.92 L361.59,388.81 L362.75,388.70 L363.91,388.59 L365.08,388.49 L366.24,388.39 L367.41,388.29 L368.57,388.18 L369.73,388.08 L370.90,387.98 L372.06,387.87 L373.23,387.76 L374.39,387.65 L375.55,387.53 L376.72,387.42 L377.88,387.29 L379.05,387.17 L380.21,387.05 L381.37,386.92 L382.54,386.79 L383.70,386.67 L384.87,386.54 L386.03,386.41 L387.19,386.28 L388.36,386.15 L389.52,386.03 L390.69,385.90 L391.85,385.78 L393.01,385.66 L394.18,385.54 L395.34,385.42 L396.51,385.31 L397.67,385.20 L398.83,385.09 L400.00,384.99 L401.16,384.88 L402.33,384.78 L403.49,384.68 L404.65,384.58 L405.82,384.48 L406.98,384.38 L408.15,384.28 L409.31,384.19 L410.47,384.10 L411.64,384.00 L412.80,383.91 L413.97,383.82 L415.13,383.74 L416.29,383.65 L417.46,383.57 L418.62,383.49 L419.79,383.41 L420.95,383.33 L422.12,383.26 L423.28,383.19 L424.44,383.12 L425.61,383.06 L426.77,383.00 L427.94,382.95 L429.10,382.89 L430.26,382.84 L431.43,382.79 L432.59,382.73 L433.76,382.68 L434.92,382.63 L436.08,382.57 L437.25,382.51 L438.41,382.45 L439.58,382.38 L440.74,382.32 L441.90,382.24 L443.07,382.16 L444.23,382.08 L445.40,381.99 L446.56,381.89 L447.72,381.77 L448.89,381.65 L450.05,381.51 L451.22,381.35 L452.38,381.19" stroke="#2222ff" stroke-width="1.7"/>
<path d="M447.50,381.80 L448.50,381.69 L449.49,381.58 L450.49,381.45 L451.48,381.32 L452.48,381.17 L453.48,381.02 L454.47,380.85 L455.47,380.68 L456.46,380.49 L457.46,380.30 L458.46,380.10 L459.45,379.89 L460.45,379.66 L461.44,379.42 L462.44,379.15 L463.43,378.85 L464.43,378.53 L465.43,378.19 L466.42,377.83 L467.42,377.44 L468.41,377.03 L469.41,376.59 L470.41,376.13 L471.40,375.65 L472.40,375.12 L473.39,374.50 L474.39,373.79 L475.39,373.01 L476.38,372.18 L477.38,371.31 L478.37,370.42 L479.37,369.52 L480.37,368.63 L481.36,367.76 L482.36,366.93 L483.35,366.14 L484.35,365.39 L485.34,364.66 L486.34,363.95 L487.34,363.25 L488.33,362.54 L489.33,361.81 L490.32,361.06 L491.32,360.27 L492.32,359.44 L493.31,358.55 L494.31,357.59 L495.30,356.56 L496.30,355.43" stroke="#2222ff" stroke-width="1.35"/>
<path d="M496.30,355.43 L497.14,354.34 L497.98,353.09 L498.82,351.72 L499.67,350.23 L500.51,348.64 L501.35,346.98 L502.19,345.25 L503.03,343.48 L503.87,341.68 L504.71,339.87 L505.56,338.06 L506.40,336.28 L507.24,334.54 L508.08,332.86 L508.92,331.25 L509.76,329.70 L510.60,328.15 L511.44,326.61 L512.29,325.07 L513.13,323.55 L513.97,322.02 L514.81,320.50 L515.65,318.99 L516.49,317.49 L517.33,315.99 L518.18,314.49 L519.02,313.00 L519.86,311.52 L520.70,310.05" stroke="#3d3dff" stroke-width="1.0"/>
<path d="M325.99,397.91 L327.07,397.31 L328.15,396.76 L329.23,396.27 L330.30,395.82 L331.38,395.42 L332.46,395.05 L333.54,394.72 L334.62,394.42 L335.70,394.14 L336.78,393.89 L337.86,393.67 L338.94,393.47 L340.02,393.28 L341.09,393.11 L342.17,392.96 L343.25,392.82 L344.33,392.70 L345.41,392.59 L346.49,392.48 L347.57,392.39 L348.65,392.31 L349.73,392.23 L350.81,392.16 L351.88,392.10 L352.96,392.04 L354.04,391.99 L355.12,391.94 L356.20,391.90 L357.28,391.86 L358.36,391.82 L359.44,391.79 L360.52,391.76 L361.60,391.74 L362.67,391.71 L363.75,391.69 L364.83,391.67 L365.91,391.65 L366.99,391.63 L368.07,391.62 L369.15,391.60 L370.23,391.59 L371.31,391.57 L372.39,391.56 L373.46,391.55 L374.54,391.54 L375.62,391.53 L376.70,391.51 L377.78,391.50 L378.86,391.49 L379.94,391.48 L381.02,391.46 L382.10,391.45 L383.18,391.43 L384.26,391.42 L385.33,391.40 L386.41,391.38 L387.49,391.36 L388.57,391.33 L389.65,391.31 L390.73,391.27 L391.81,391.24 L392.89,391.20 L393.97,391.15 L395.05,391.10 L396.12,391.04 L397.20,390.98 L398.28,390.90 L399.36,390.82 L400.44,390.72 L401.52,390.61 L402.60,390.48 L403.68,390.34 L404.76,390.17 L405.84,389.98 L406.91,389.77 L407.99,389.52 L409.07,389.24 L410.15,388.92 L411.23,388.56 L412.31,388.14 L413.39,387.66 L414.47,387.12 L415.55,386.50 L416.63,385.79 L417.70,384.98 L418.78,384.05 L419.86,383.00 L420.94,381.79 L422.02,380.42 L423.10,378.84" stroke="#ff4040" stroke-width="0.8"/>
<path d="M325.99,397.91 L327.34,397.17 L328.69,396.51 L330.04,395.93 L331.39,395.42 L332.74,394.96 L334.09,394.56 L335.44,394.21 L336.79,393.89 L338.14,393.61 L339.49,393.37 L340.84,393.15 L342.19,392.96 L343.54,392.79 L344.89,392.64 L346.24,392.51 L347.59,392.39 L348.94,392.29 L350.29,392.19 L351.64,392.11 L352.99,392.04 L354.34,391.98 L355.69,391.92 L357.04,391.87 L358.39,391.83 L359.74,391.79 L361.09,391.75 L362.44,391.72 L363.79,391.70 L365.14,391.67 L366.49,391.65 L367.84,391.63 L369.19,391.61 L370.54,391.60 L371.89,391.59 L373.24,391.57 L374.59,391.56 L375.94,391.55 L377.29,391.54 L378.64,391.54 L379.99,391.53 L381.34,391.52 L382.69,391.51 L384.04,391.51 L385.39,391.50 L386.74,391.50 L388.09,391.49 L389.44,391.48 L390.79,391.48 L392.14,391.47 L393.49,391.46 L394.84,391.45 L396.19,391.44 L397.55,391.43 L398.90,391.42 L400.25,391.40 L401.60,391.39 L402.95,391.37 L404.30,391.35 L405.65,391.33 L407.00,391.30 L408.35,391.27 L409.70,391.23 L411.05,391.19 L412.40,391.15 L413.75,391.09 L415.10,391.03 L416.45,390.96 L417.80,390.87 L419.15,390.78 L420.50,390.66 L421.85,390.54 L423.20,390.39 L424.55,390.22 L425.90,390.02 L427.25,389.79 L428.60,389.53 L429.95,389.22 L431.30,388.87 L432.65,388.46 L434.00,388.00 L435.35,387.46 L436.70,386.83 L438.05,386.11 L439.40,385.28 L440.75,384.31 L442.10,383.20 L443.45,381.92 L444.80,380.44 L446.15,378.73 L447.50,376.75" stroke="#ff4040" stroke-width="0.8"/>
<path d="M325.99,397.91 L327.61,397.03 L329.23,396.27 L330.85,395.61 L332.47,395.05 L334.09,394.56 L335.72,394.14 L337.34,393.77 L338.96,393.46 L340.58,393.19 L342.20,392.96 L343.82,392.76 L345.44,392.58 L347.06,392.43 L348.69,392.30 L350.31,392.19 L351.93,392.10 L353.55,392.01 L355.17,391.94 L356.79,391.88 L358.41,391.83 L360.03,391.78 L361.66,391.74 L363.28,391.71 L364.90,391.68 L366.52,391.65 L368.14,391.63 L369.76,391.61 L371.38,391.59 L373.00,391.58 L374.63,391.57 L376.25,391.56 L377.87,391.55 L379.49,391.54 L381.11,391.53 L382.73,391.53 L384.35,391.52 L385.97,391.52 L387.60,391.51 L389.22,391.51 L390.84,391.51 L392.46,391.50 L394.08,391.50 L395.70,391.50 L397.32,391.50 L398.94,391.49 L400.57,391.49 L402.19,391.49 L403.81,391.48 L405.43,391.48 L407.05,391.48 L408.67,391.47 L410.29,391.47 L411.91,391.46 L413.54,391.46 L415.16,391.45 L416.78,391.44 L418.40,391.43 L420.02,391.41 L421.64,391.40 L423.26,391.38 L424.88,391.35 L426.51,391.33 L428.13,391.29 L429.75,391.25 L431.37,391.21 L432.99,391.15 L434.61,391.08 L436.23,391.00 L437.85,390.91 L439.48,390.79 L441.10,390.65 L442.72,390.49 L444.34,390.29 L445.96,390.05 L447.58,389.77 L449.20,389.43 L450.82,389.03 L452.45,388.54 L454.07,387.96 L455.69,387.27 L457.31,386.44 L458.93,385.45 L460.55,384.26 L462.17,382.84 L463.79,381.14 L465.42,379.10 L467.04,376.67 L468.66,373.76 L470.28,370.27 L471.90,366.10" stroke="#ff4040" stroke-width="0.8"/>
<path d="M325.99,397.91 L327.88,396.89 L329.77,396.04 L331.67,395.32 L333.56,394.71 L335.45,394.20 L337.34,393.77 L339.23,393.41 L341.13,393.11 L343.02,392.85 L344.91,392.64 L346.80,392.46 L348.70,392.30 L350.59,392.18 L352.48,392.07 L354.37,391.98 L356.27,391.90 L358.16,391.84 L360.05,391.78 L361.94,391.74 L363.84,391.70 L365.73,391.66 L367.62,391.64 L369.51,391.61 L371.40,391.60 L373.30,391.58 L375.19,391.57 L377.08,391.55 L378.97,391.54 L380.87,391.54 L382.76,391.53 L384.65,391.52 L386.54,391.52 L388.44,391.51 L390.33,391.51 L392.22,391.51 L394.11,391.51 L396.01,391.50 L397.90,391.50 L399.79,391.50 L401.68,391.50 L403.57,391.50 L405.47,391.50 L407.36,391.50 L409.25,391.49 L411.14,391.49 L413.04,391.49 L414.93,391.49 L416.82,391.49 L418.71,391.49 L420.61,391.49 L422.50,391.49 L424.39,391.48 L426.28,391.48 L428.18,391.48 L430.07,391.47 L431.96,391.47 L433.85,391.46 L435.74,391.45 L437.64,391.44 L439.53,391.43 L441.42,391.41 L443.31,391.39 L445.21,391.37 L447.10,391.33 L448.99,391.29 L450.88,391.24 L452.78,391.18 L454.67,391.09 L456.56,390.99 L458.45,390.85 L460.35,390.69 L462.24,390.48 L464.13,390.21 L466.02,389.87 L467.91,389.45 L469.81,388.91 L471.70,388.24 L473.59,387.39 L475.48,386.31 L477.38,384.95 L479.27,383.24 L481.16,381.08 L483.05,378.35 L484.95,374.91 L486.84,370.57 L488.73,365.08 L490.62,358.17 L492.52,349.44 L494.41,338.42 L496.30,324.51" stroke="#ff4040" stroke-width="0.8"/>
<path d="M325.99,397.91 L327.88,396.89 L329.77,396.04 L331.67,395.32 L333.56,394.71 L335.45,394.20 L337.34,393.77 L339.23,393.41 L341.13,393.11 L343.02,392.85 L344.91,392.64 L346.80,392.46 L348.70,392.30 L350.59,392.17 L352.48,392.07 L354.37,391.97 L356.27,391.90 L358.16,391.83 L360.05,391.78 L361.94,391.73 L363.84,391.69 L365.73,391.66 L367.62,391.63 L369.51,391.61 L371.40,391.59 L373.30,391.57 L375.19,391.56 L377.08,391.54 L378.97,391.53 L380.87,391.52 L382.76,391.51 L384.65,391.51 L386.54,391.50 L388.44,391.49 L390.33,391.48 L392.22,391.48 L394.11,391.47 L396.01,391.46 L397.90,391.45 L399.79,391.45 L401.68,391.44 L403.57,391.43 L405.47,391.41 L407.36,391.40 L409.25,391.39 L411.14,391.37 L413.04,391.35 L414.93,391.33 L416.82,391.30 L418.71,391.28 L420.61,391.24 L422.50,391.20 L424.39,391.16 L426.28,391.11 L428.18,391.05 L430.07,390.99 L431.96,390.91 L433.85,390.82 L435.74,390.72 L437.64,390.61 L439.53,390.48 L441.42,390.32 L443.31,390.15 L445.21,389.95 L447.10,389.72 L448.99,389.45 L450.88,389.14 L452.78,388.79 L454.67,388.39 L456.56,387.92 L458.45,387.39 L460.35,386.77 L462.24,386.06 L464.13,385.25 L466.02,384.32 L467.91,383.24 L469.81,382.01 L471.70,380.58 L473.59,378.95 L475.48,377.07 L477.38,374.91 L479.27,372.43 L481.16,369.57 L483.05,366.28 L484.95,362.51 L486.84,358.17 L488.73,353.17 L490.62,347.43 L492.52,340.83 L494.41,333.24 L496.30,324.51" stroke="#ff4040" stroke-width="0.8"/>
<path d="M325.99,397.91 L328.15,396.76 L330.31,395.82 L332.48,395.05 L334.64,394.41 L336.81,393.89 L338.97,393.46 L341.13,393.11 L343.30,392.82 L345.46,392.58 L347.62,392.39 L349.79,392.23 L351.95,392.10 L354.11,391.99 L356.28,391.90 L358.44,391.83 L360.60,391.77 L362.77,391.72 L364.93,391.68 L367.09,391.64 L369.26,391.62 L371.42,391.59 L373.58,391.58 L375.75,391.56 L377.91,391.55 L380.07,391.54 L382.24,391.53 L384.40,391.52 L386.57,391.52 L388.73,391.51 L390.89,391.51 L393.06,391.51 L395.22,391.50 L397.38,391.50 L399.55,391.50 L401.71,391.50 L403.87,391.50 L406.04,391.50 L408.20,391.49 L410.36,391.49 L412.53,391.49 L414.69,391.49 L416.85,391.49 L419.02,391.49 L421.18,391.49 L423.34,391.48 L425.51,391.48 L427.67,391.48 L429.83,391.47 L432.00,391.47 L434.16,391.46 L436.32,391.46 L438.49,391.45 L440.65,391.44 L442.82,391.43 L444.98,391.41 L447.14,391.39 L449.31,391.37 L451.47,391.34 L453.63,391.30 L455.80,391.25 L457.96,391.19 L460.12,391.12 L462.29,391.04 L464.45,390.93 L466.61,390.79 L468.78,390.63 L470.94,390.42 L473.10,390.17 L475.27,389.86 L477.43,389.47 L479.59,388.99 L481.76,388.40 L483.92,387.66 L486.08,386.76 L488.25,385.63 L490.41,384.24 L492.57,382.52 L494.74,380.40 L496.90,377.77 L499.07,374.51 L501.23,370.48 L503.39,365.50 L505.56,359.34 L507.72,351.71 L509.88,342.28 L512.05,330.61 L514.21,316.17 L516.37,298.31 L518.54,276.22 L520.70,248.88" stroke="#ff4040" stroke-width="0.8"/>
<path d="M325.50,398.20 L326.66,396.64 L327.83,395.49 L328.99,394.62 L330.16,393.88 L331.32,393.23 L332.48,392.66 L333.65,392.14 L334.81,391.64 L335.98,391.17 L337.14,390.72 L338.30,390.30 L339.47,389.91 L340.63,389.55 L341.80,389.22 L342.96,388.92 L344.12,388.65 L345.29,388.42 L346.45,388.20 L347.62,388.01 L348.78,387.82 L349.94,387.65 L351.11,387.49 L352.27,387.34 L353.44,387.19 L354.60,387.04 L355.76,386.89 L356.93,386.74 L358.09,386.59 L359.26,386.43 L360.42,386.28 L361.59,386.14 L362.75,386.00 L363.91,385.85 L365.08,385.71 L366.24,385.58 L367.41,385.44 L368.57,385.30 L369.73,385.16 L370.90,385.03 L372.06,384.89 L373.23,384.75 L374.39,384.61 L375.55,384.48 L376.72,384.34 L377.88,384.20 L379.05,384.06 L380.21,383.92 L381.37,383.78 L382.54,383.65 L383.70,383.51 L384.87,383.37 L386.03,383.24 L387.19,383.10 L388.36,382.96 L389.52,382.83 L390.69,382.69 L391.85,382.55 L393.01,382.42 L394.18,382.28 L395.34,382.14 L396.51,382.01 L397.67,381.87 L398.83,381.74 L400.00,381.60 L401.16,381.46 L402.33,381.32 L403.49,381.17 L404.65,381.03 L405.82,380.88 L406.98,380.74 L408.15,380.59 L409.31,380.45 L410.47,380.30 L411.64,380.16 L412.80,380.02 L413.97,379.88 L415.13,379.74 L416.29,379.60 L417.46,379.46 L418.62,379.33 L419.79,379.20 L420.95,379.07 L422.12,378.95 L423.28,378.83 L424.44,378.71 L425.61,378.60 L426.77,378.49 L427.94,378.39 L429.10,378.31 L430.26,378.22 L431.43,378.15 L432.59,378.08 L433.76,378.01 L434.92,377.94 L436.08,377.87 L437.25,377.80 L438.41,377.72 L439.58,377.64 L440.74,377.55 L441.90,377.45 L443.07,377.34 L444.23,377.21 L445.40,377.07 L446.56,376.92 L447.72,376.71 L448.89,376.43 L450.05,376.10 L451.22,375.72 L452.38,375.30" stroke="#ff2020" stroke-width="1.7"/>
<path d="M447.50,376.75 L448.50,376.53 L449.49,376.26 L450.49,375.96 L451.48,375.62 L452.48,375.27 L453.48,374.89 L454.47,374.50 L455.47,374.11 L456.46,373.73 L457.46,373.34 L458.46,372.96 L459.45,372.57 L460.45,372.18 L461.44,371.77 L462.44,371.36 L463.43,370.92 L464.43,370.47 L465.43,369.99 L466.42,369.48 L467.42,368.95 L468.41,368.38 L469.41,367.78 L470.41,367.14 L471.40,366.46 L472.40,365.72 L473.39,364.86 L474.39,363.89 L475.39,362.81 L476.38,361.62 L477.38,360.35 L478.37,359.00 L479.37,357.57 L480.37,356.09 L481.36,354.55 L482.36,352.98 L483.35,351.37 L484.35,349.73 L485.34,348.08 L486.34,346.32 L487.34,344.42 L488.33,342.41 L489.33,340.31 L490.32,338.13 L491.32,335.89 L492.32,333.61 L493.31,331.32 L494.31,329.02 L495.30,326.75 L496.30,324.51" stroke="#ff2020" stroke-width="1.35"/>
<path d="M496.30,324.51 L497.14,322.66 L497.98,320.83 L498.82,319.01 L499.67,317.19 L500.51,315.35 L501.35,313.49 L502.19,311.59 L503.03,309.64 L503.87,307.63 L504.71,305.54 L505.56,303.36 L506.40,301.09 L507.24,298.71 L508.08,296.23 L508.92,293.66 L509.76,291.00 L510.60,288.25 L511.44,285.41 L512.29,282.49 L513.13,279.48 L513.97,276.39 L514.81,273.22 L515.65,269.97 L516.49,266.64 L517.33,263.23 L518.18,259.75 L519.02,256.20 L519.86,252.57 L520.70,248.88" stroke="#ff4040" stroke-width="1.0"/>
</g>
<rect x="325.8" y="238.9" width="219.1" height="159.1" fill="none" stroke="#1a1a1a" stroke-width="1.5"/>
<line x1="325.8" y1="398.2" x2="328.8" y2="398.2" stroke="#1a1a1a" stroke-width="1.2"/>
<text x="322.2" y="398.2" font-size="11" text-anchor="end" font-weight="normal" fill="#222" dominant-baseline="central" stroke="#222" stroke-width="0.132">0</text>
<line x1="325.8" y1="350.29" x2="328.8" y2="350.29" stroke="#1a1a1a" stroke-width="1.2"/>
<text x="322.2" y="350.29" font-size="11" text-anchor="end" font-weight="normal" fill="#222" dominant-baseline="central" stroke="#222" stroke-width="0.132">3</text>
<line x1="325.8" y1="302.38" x2="328.8" y2="302.38" stroke="#1a1a1a" stroke-width="1.2"/>
<text x="322.2" y="302.38" font-size="11" text-anchor="end" font-weight="normal" fill="#222" dominant-baseline="central" stroke="#222" stroke-width="0.132">6</text>
<line x1="325.8" y1="254.47" x2="328.8" y2="254.47" stroke="#1a1a1a" stroke-width="1.2"/>
<text x="322.2" y="254.47" font-size="11" text-anchor="end" font-weight="normal" fill="#222" dominant-baseline="central" stroke="#222" stroke-width="0.132">9</text>
<line x1="374.3" y1="398" x2="374.3" y2="395" stroke="#1a1a1a" stroke-width="1.2"/>
<text x="374.3" y="406.9" font-size="11" text-anchor="middle" font-weight="normal" fill="#222" dominant-baseline="central" stroke="#222" stroke-width="0.132">200</text>
<line x1="423.1" y1="398" x2="423.1" y2="395" stroke="#1a1a1a" stroke-width="1.2"/>
<text x="423.1" y="406.9" font-size="11" text-anchor="middle" font-weight="normal" fill="#222" dominant-baseline="central" stroke="#222" stroke-width="0.132">400</text>
<line x1="471.9" y1="398" x2="471.9" y2="395" stroke="#1a1a1a" stroke-width="1.2"/>
<text x="471.9" y="406.9" font-size="11" text-anchor="middle" font-weight="normal" fill="#222" dominant-baseline="central" stroke="#222" stroke-width="0.132">600</text>
<line x1="520.7" y1="398" x2="520.7" y2="395" stroke="#1a1a1a" stroke-width="1.2"/>
<text x="520.7" y="406.9" font-size="11" text-anchor="middle" font-weight="normal" fill="#222" dominant-baseline="central" stroke="#222" stroke-width="0.132">800</text>
<line x1="334" y1="250.6" x2="354" y2="250.6" stroke="#6a6aff" stroke-width="1.8"/>
<text x="356" y="251" font-size="9" text-anchor="start" font-weight="normal" fill="#222" dominant-baseline="central" stroke="#222" stroke-width="0.108">PVT0</text>
<line x1="381.6" y1="250.6" x2="401.4" y2="250.6" stroke="#ff8080" stroke-width="1.8"/>
<text x="403.4" y="251" font-size="9" text-anchor="start" font-weight="normal" fill="#222" dominant-baseline="central" stroke="#222" stroke-width="0.108">PVT5</text>
<text x="434.5" y="416.2" font-size="10.5" text-anchor="middle" font-weight="normal" fill="#222" dominant-baseline="central" stroke="#222" stroke-width="0.126">Strain ( % )</text>
<text x="309" y="318" font-size="10.1" text-anchor="middle" font-weight="normal" fill="#222" dominant-baseline="central" stroke="#222" stroke-width="0.121" transform="rotate(-90 309 318)">Stress ( MPa )</text>
<text x="423.5" y="437" font-size="13" text-anchor="middle" font-weight="bold" fill="#111" dominant-baseline="central" stroke="#111" stroke-width="0.260">( d )</text>
</svg>
</body></html>
